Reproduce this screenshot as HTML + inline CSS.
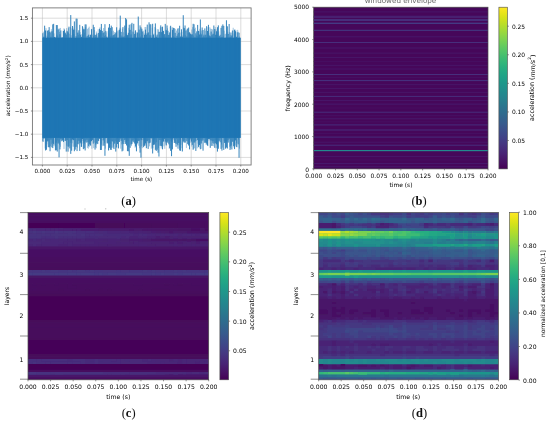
<!DOCTYPE html>
<html><head><meta charset="utf-8"><title>figure</title>
<style>
html,body{margin:0;padding:0;background:#fff;}
body{width:550px;height:422px;overflow:hidden;}
svg{display:block;font-family:'DejaVu Sans','Liberation Sans',sans-serif;}
</style></head><body>
<svg width="550" height="422" viewBox="0 0 550 422">
<rect x="0" y="0" width="550" height="422" fill="#fff"/>
<rect x="32.40" y="7.90" width="218.70" height="157.10" fill="#fff"/>
<line x1="42.40" y1="7.90" x2="42.40" y2="165.00" stroke="#b8b8b8" stroke-width="0.5"/>
<line x1="67.20" y1="7.90" x2="67.20" y2="165.00" stroke="#b8b8b8" stroke-width="0.5"/>
<line x1="92.00" y1="7.90" x2="92.00" y2="165.00" stroke="#b8b8b8" stroke-width="0.5"/>
<line x1="116.80" y1="7.90" x2="116.80" y2="165.00" stroke="#b8b8b8" stroke-width="0.5"/>
<line x1="141.60" y1="7.90" x2="141.60" y2="165.00" stroke="#b8b8b8" stroke-width="0.5"/>
<line x1="166.40" y1="7.90" x2="166.40" y2="165.00" stroke="#b8b8b8" stroke-width="0.5"/>
<line x1="191.20" y1="7.90" x2="191.20" y2="165.00" stroke="#b8b8b8" stroke-width="0.5"/>
<line x1="216.00" y1="7.90" x2="216.00" y2="165.00" stroke="#b8b8b8" stroke-width="0.5"/>
<line x1="240.80" y1="7.90" x2="240.80" y2="165.00" stroke="#b8b8b8" stroke-width="0.5"/>
<line x1="32.40" y1="157.40" x2="251.10" y2="157.40" stroke="#b8b8b8" stroke-width="0.5"/>
<line x1="32.40" y1="134.20" x2="251.10" y2="134.20" stroke="#b8b8b8" stroke-width="0.5"/>
<line x1="32.40" y1="111.00" x2="251.10" y2="111.00" stroke="#b8b8b8" stroke-width="0.5"/>
<line x1="32.40" y1="87.80" x2="251.10" y2="87.80" stroke="#b8b8b8" stroke-width="0.5"/>
<line x1="32.40" y1="64.60" x2="251.10" y2="64.60" stroke="#b8b8b8" stroke-width="0.5"/>
<line x1="32.40" y1="41.40" x2="251.10" y2="41.40" stroke="#b8b8b8" stroke-width="0.5"/>
<line x1="32.40" y1="18.20" x2="251.10" y2="18.20" stroke="#b8b8b8" stroke-width="0.5"/>
<rect x="42.40" y="37.69" width="198.40" height="100.22" fill="#1f77b4"/>
<path d="M43.30 31.72V141.98M44.20 36.91V138.92M45.10 30.70V148.47M46.00 28.13V141.14M46.90 35.68V144.39M47.80 37.02V140.21M48.70 32.64V141.25M49.60 31.84V147.66M50.50 33.03V146.34M51.40 29.17V144.29M52.30 31.23V142.99M53.20 37.01V145.72M54.10 33.39V145.36M55.00 37.03V146.47M55.90 36.79V142.91M56.80 34.59V142.54M57.70 35.73V140.50M58.60 37.64V142.58M59.50 31.95V144.79M60.40 27.95V146.80M61.30 36.99V138.66M62.20 37.69V139.60M63.10 30.85V139.57M64.00 28.23V148.97M64.90 33.87V140.86M65.80 31.81V139.54M66.70 28.07V145.66M67.60 31.76V146.59M68.50 28.19V146.89M69.40 33.73V138.23M70.30 27.04V142.89M71.20 35.23V140.44M72.10 28.33V143.25M73.00 27.56V146.62M73.90 33.99V146.83M74.80 29.62V139.81M75.70 36.06V147.12M76.60 36.23V138.07M77.50 32.86V147.62M78.40 35.01V144.44M79.30 33.75V143.01M80.20 32.10V143.83M81.10 37.64V146.81M82.00 34.06V143.68M82.90 34.92V141.00M83.80 27.53V142.85M84.70 32.65V143.85M85.60 27.20V140.80M86.50 36.33V142.84M87.40 28.96V147.90M88.30 27.86V148.69M89.20 26.66V147.18M90.10 35.51V141.46M91.00 37.49V141.60M91.90 28.91V148.73M92.80 34.68V139.35M93.70 36.02V148.15M94.60 30.02V142.65M95.50 36.76V147.45M96.40 31.53V148.23M97.30 36.47V139.71M98.20 29.23V141.14M99.10 34.90V138.08M100.00 27.28V139.10M100.90 33.31V143.55M101.80 29.82V144.99M102.70 36.90V146.16M103.60 27.99V145.38M104.50 35.93V142.88M105.40 34.97V148.67M106.30 32.40V143.51M107.20 36.69V142.36M108.10 31.17V143.81M109.00 33.35V141.54M109.90 37.20V147.21M110.80 36.14V143.74M111.70 31.18V147.85M112.60 36.21V141.93M113.50 30.71V145.49M114.40 32.09V143.87M115.30 36.86V140.87M116.20 32.19V142.17M117.10 30.53V138.77M118.00 31.37V138.05M118.90 30.16V141.15M119.80 27.74V140.13M120.70 28.56V148.69M121.60 35.34V144.39M122.50 28.55V143.58M123.40 32.27V138.19M124.30 36.12V141.74M125.20 28.34V139.25M126.10 33.54V142.29M127.00 34.62V138.45M127.90 34.91V140.87M128.80 27.84V146.95M129.70 29.67V138.46M130.60 34.50V138.46M131.50 34.37V146.14M132.40 31.48V142.30M133.30 32.15V140.36M134.20 35.55V138.92M135.10 31.34V147.79M136.00 33.49V141.68M136.90 32.08V144.92M137.80 33.24V142.88M138.70 37.33V145.81M139.60 33.33V148.23M140.50 36.47V139.63M141.40 30.48V146.43M142.30 35.10V148.16M143.20 30.60V145.69M144.10 33.37V140.40M145.00 27.01V145.09M145.90 26.99V145.76M146.80 33.01V140.78M147.70 33.92V142.60M148.60 32.07V140.20M149.50 35.22V146.38M150.40 35.20V142.56M151.30 35.32V148.76M152.20 27.69V147.75M153.10 35.62V148.33M154.00 33.52V141.61M154.90 27.05V139.29M155.80 28.53V142.73M156.70 35.54V141.97M157.60 29.15V138.36M158.50 29.37V147.92M159.40 34.77V145.89M160.30 27.48V144.97M161.20 27.03V148.53M162.10 27.35V139.95M163.00 30.93V141.56M163.90 35.49V146.30M164.80 34.06V148.83M165.70 36.61V143.46M166.60 30.78V145.42M167.50 28.32V141.18M168.40 34.93V140.64M169.30 33.28V148.96M170.20 26.65V139.05M171.10 37.24V141.18M172.00 27.33V142.06M172.90 27.16V139.09M173.80 36.11V140.18M174.70 37.56V141.56M175.60 28.83V144.02M176.50 30.57V138.93M177.40 34.26V148.53M178.30 28.06V149.01M179.20 37.62V147.95M180.10 32.56V139.72M181.00 36.70V144.84M181.90 31.88V148.22M182.80 35.49V139.32M183.70 27.37V142.23M184.60 28.94V140.39M185.50 35.26V142.36M186.40 29.62V147.90M187.30 28.35V139.22M188.20 33.01V144.40M189.10 37.43V144.80M190.00 32.58V139.91M190.90 36.67V142.83M191.80 29.52V146.57M192.70 27.10V139.43M193.60 35.53V148.84M194.50 28.91V148.27M195.40 27.70V140.97M196.30 35.37V140.84M197.20 35.89V148.34M198.10 36.41V143.82M199.00 31.23V147.74M199.90 28.81V140.86M200.80 32.76V139.88M201.70 30.57V148.87M202.60 37.31V139.58M203.50 36.22V140.44M204.40 36.50V141.89M205.30 30.74V143.20M206.20 36.62V145.02M207.10 37.56V145.09M208.00 27.25V146.08M208.90 33.17V140.56M209.80 27.21V139.50M210.70 28.63V139.86M211.60 28.97V145.88M212.50 29.43V142.95M213.40 33.95V146.26M214.30 31.52V142.77M215.20 26.94V140.33M216.10 29.40V148.43M217.00 35.02V148.02M217.90 32.46V147.26M218.80 31.34V141.34M219.70 36.08V138.21M220.60 37.37V138.38M221.50 36.96V144.49M222.40 36.95V147.58M223.30 36.44V138.30M224.20 30.66V141.11M225.10 34.13V142.63M226.00 33.59V141.48M226.90 37.34V142.51M227.80 31.70V140.32M228.70 37.67V140.16M229.60 32.21V146.78M230.50 34.79V148.42M231.40 36.46V145.00M232.30 30.70V141.87M233.20 27.79V138.19M234.10 33.46V147.76M235.00 29.30V145.11M235.90 30.31V146.17M236.80 36.28V143.06M237.70 29.86V147.31M238.60 31.87V139.70M239.50 36.55V148.63" stroke="#1f77b4" stroke-width="0.6" fill="none" opacity="0.7"/>
<path d="M42.85 33.22V141.50M43.75 36.73V138.53M44.65 25.70V137.56M45.55 30.49V150.47M46.45 38.53V149.78M47.35 30.76V141.40M48.25 30.14V147.22M49.15 27.12V147.09M50.05 31.70V151.24M50.95 36.81V139.62M51.85 31.41V147.31M52.75 24.38V148.09M53.65 23.84V143.87M54.55 36.94V137.06M55.45 37.93V150.40M56.35 25.07V150.32M57.25 25.06V151.59M58.15 29.50V143.62M59.05 28.60V157.34M59.95 34.30V149.38M60.85 30.46V139.46M61.75 38.33V141.28M62.65 37.39V140.58M63.55 31.04V142.06M64.45 29.52V136.99M65.35 33.11V140.93M66.25 34.60V151.59M67.15 30.82V140.10M68.05 32.42V151.66M68.95 26.66V146.46M69.85 37.78V148.41M70.75 15.08V153.87M71.65 38.13V150.72M72.55 26.00V139.59M73.45 29.58V140.18M74.35 21.40V151.24M75.25 38.38V149.68M76.15 18.61V146.81M77.05 18.69V151.09M77.95 32.55V143.96M78.85 30.24V140.74M79.75 24.83V150.92M80.65 34.70V142.74M81.55 36.88V146.89M82.45 26.17V139.12M83.35 29.25V149.16M84.25 29.27V148.41M85.15 24.42V150.46M86.05 24.40V142.22M86.95 37.96V139.63M87.85 35.76V142.29M88.75 34.66V146.12M89.65 37.08V144.47M90.55 34.69V145.60M91.45 29.20V141.09M92.35 37.85V140.13M93.25 24.75V143.58M94.15 27.10V136.79M95.05 34.73V149.62M95.95 35.08V144.47M96.85 33.46V143.35M97.75 38.14V144.09M98.65 32.92V140.90M99.55 28.77V138.72M100.45 30.09V149.99M101.35 23.96V149.96M102.25 31.03V137.12M103.15 33.09V140.42M104.05 32.21V145.81M104.95 24.19V155.81M105.85 30.93V138.29M106.75 36.74V137.75M107.65 38.98V143.29M108.55 27.58V150.49M109.45 24.03V147.86M110.35 27.92V149.74M111.25 25.61V149.90M112.15 27.18V141.04M113.05 35.20V147.69M113.95 34.87V149.03M114.85 34.17V143.50M115.75 32.62V151.56M116.65 27.29V147.57M117.55 37.90V144.09M118.45 37.83V148.40M119.35 29.73V142.02M120.25 15.63V138.65M121.15 31.91V140.91M122.05 36.65V151.39M122.95 27.07V150.69M123.85 36.80V144.06M124.75 25.55V140.00M125.65 18.01V143.92M126.55 19.34V145.46M127.45 35.21V151.11M128.35 32.79V151.34M129.25 24.73V155.84M130.15 29.88V147.87M131.05 24.27V144.52M131.95 22.85V144.05M132.85 38.33V140.72M133.75 23.81V142.25M134.65 33.89V143.57M135.55 30.31V146.53M136.45 37.79V151.32M137.35 32.50V143.46M138.25 16.57V140.94M139.15 29.63V140.70M140.05 25.38V152.63M140.95 27.31V157.68M141.85 28.76V140.15M142.75 31.52V137.69M143.65 38.75V147.19M144.55 34.79V145.83M145.45 29.61V143.45M146.35 34.66V148.21M147.25 24.60V141.08M148.15 32.70V148.93M149.05 22.30V143.27M149.95 24.30V142.78M150.85 24.34V138.35M151.75 38.84V138.35M152.65 23.80V153.49M153.55 34.55V144.91M154.45 39.07V144.61M155.35 23.41V149.85M156.25 36.88V150.94M157.15 34.57V149.74M158.05 38.79V152.72M158.95 31.87V156.56M159.85 31.83V140.03M160.75 25.37V145.99M161.65 32.11V146.19M162.55 26.68V149.30M163.45 30.87V141.58M164.35 34.18V139.08M165.25 23.90V141.63M166.15 29.93V145.34M167.05 25.47V142.05M167.95 30.75V142.91M168.85 34.98V144.33M169.75 32.33V147.97M170.65 25.78V150.88M171.55 38.20V156.20M172.45 29.90V149.36M173.35 28.00V138.23M174.25 28.23V142.96M175.15 32.84V142.96M176.05 38.61V146.82M176.95 35.85V143.85M177.85 28.60V145.33M178.75 32.71V142.96M179.65 25.77V150.53M180.55 36.52V150.83M181.45 29.29V137.83M182.35 36.80V151.46M183.25 15.21V141.29M184.15 28.00V142.48M185.05 25.48V142.73M185.95 30.63V137.67M186.85 36.47V141.12M187.75 28.78V144.11M188.65 27.57V145.58M189.55 32.28V149.38M190.45 33.71V138.52M191.35 34.45V141.61M192.25 34.30V144.90M193.15 23.81V149.77M194.05 24.25V142.53M194.95 37.45V142.46M195.85 33.31V150.94M196.75 31.35V137.36M197.65 24.93V140.16M198.55 30.90V146.88M199.45 34.47V145.09M200.35 19.46V149.21M201.25 34.37V143.52M202.15 27.51V140.72M203.05 30.09V150.67M203.95 34.66V138.17M204.85 28.41V142.97M205.75 34.73V142.36M206.65 26.19V143.64M207.55 31.00V145.64M208.45 24.84V138.99M209.35 35.47V139.08M210.25 36.26V147.84M211.15 31.56V140.65M212.05 35.16V145.88M212.95 33.73V141.13M213.85 25.49V143.66M214.75 29.08V147.85M215.65 34.73V143.33M216.55 31.26V144.35M217.45 27.19V151.60M218.35 25.35V148.77M219.25 36.19V140.75M220.15 34.77V142.28M221.05 27.85V148.90M221.95 25.80V150.62M222.85 24.39V137.47M223.75 25.86V149.88M224.65 38.63V142.98M225.55 37.89V148.67M226.45 20.25V147.58M227.35 26.30V148.54M228.25 33.89V142.59M229.15 24.01V138.80M230.05 36.79V149.96M230.95 32.51V146.25M231.85 35.42V149.46M232.75 30.51V141.66M233.65 37.86V146.28M234.55 29.77V149.10M235.45 31.27V140.43M236.35 37.04V147.15M237.25 32.25V137.92M238.15 38.36V144.33M239.05 32.80V157.75" stroke="#1f77b4" stroke-width="0.9" fill="none"/>
<rect x="32.40" y="7.90" width="218.70" height="157.10" fill="none" stroke="#6e6e6e" stroke-width="0.85"/>
<line x1="42.40" y1="165.00" x2="42.40" y2="166.50" stroke="#4a4a4a" stroke-width="0.6"/>
<text x="42.40" y="170.70" font-size="5.6" text-anchor="middle" fill="#000" dominant-baseline="central">0.000</text>
<line x1="67.20" y1="165.00" x2="67.20" y2="166.50" stroke="#4a4a4a" stroke-width="0.6"/>
<text x="67.20" y="170.70" font-size="5.6" text-anchor="middle" fill="#000" dominant-baseline="central">0.025</text>
<line x1="92.00" y1="165.00" x2="92.00" y2="166.50" stroke="#4a4a4a" stroke-width="0.6"/>
<text x="92.00" y="170.70" font-size="5.6" text-anchor="middle" fill="#000" dominant-baseline="central">0.050</text>
<line x1="116.80" y1="165.00" x2="116.80" y2="166.50" stroke="#4a4a4a" stroke-width="0.6"/>
<text x="116.80" y="170.70" font-size="5.6" text-anchor="middle" fill="#000" dominant-baseline="central">0.075</text>
<line x1="141.60" y1="165.00" x2="141.60" y2="166.50" stroke="#4a4a4a" stroke-width="0.6"/>
<text x="141.60" y="170.70" font-size="5.6" text-anchor="middle" fill="#000" dominant-baseline="central">0.100</text>
<line x1="166.40" y1="165.00" x2="166.40" y2="166.50" stroke="#4a4a4a" stroke-width="0.6"/>
<text x="166.40" y="170.70" font-size="5.6" text-anchor="middle" fill="#000" dominant-baseline="central">0.125</text>
<line x1="191.20" y1="165.00" x2="191.20" y2="166.50" stroke="#4a4a4a" stroke-width="0.6"/>
<text x="191.20" y="170.70" font-size="5.6" text-anchor="middle" fill="#000" dominant-baseline="central">0.150</text>
<line x1="216.00" y1="165.00" x2="216.00" y2="166.50" stroke="#4a4a4a" stroke-width="0.6"/>
<text x="216.00" y="170.70" font-size="5.6" text-anchor="middle" fill="#000" dominant-baseline="central">0.175</text>
<line x1="240.80" y1="165.00" x2="240.80" y2="166.50" stroke="#4a4a4a" stroke-width="0.6"/>
<text x="240.80" y="170.70" font-size="5.6" text-anchor="middle" fill="#000" dominant-baseline="central">0.200</text>
<line x1="30.90" y1="157.40" x2="32.40" y2="157.40" stroke="#4a4a4a" stroke-width="0.6"/>
<text x="28.30" y="157.40" font-size="5.6" text-anchor="end" fill="#000" dominant-baseline="central">−1.5</text>
<line x1="30.90" y1="134.20" x2="32.40" y2="134.20" stroke="#4a4a4a" stroke-width="0.6"/>
<text x="28.30" y="134.20" font-size="5.6" text-anchor="end" fill="#000" dominant-baseline="central">−1.0</text>
<line x1="30.90" y1="111.00" x2="32.40" y2="111.00" stroke="#4a4a4a" stroke-width="0.6"/>
<text x="28.30" y="111.00" font-size="5.6" text-anchor="end" fill="#000" dominant-baseline="central">−0.5</text>
<line x1="30.90" y1="87.80" x2="32.40" y2="87.80" stroke="#4a4a4a" stroke-width="0.6"/>
<text x="28.30" y="87.80" font-size="5.6" text-anchor="end" fill="#000" dominant-baseline="central">0.0</text>
<line x1="30.90" y1="64.60" x2="32.40" y2="64.60" stroke="#4a4a4a" stroke-width="0.6"/>
<text x="28.30" y="64.60" font-size="5.6" text-anchor="end" fill="#000" dominant-baseline="central">0.5</text>
<line x1="30.90" y1="41.40" x2="32.40" y2="41.40" stroke="#4a4a4a" stroke-width="0.6"/>
<text x="28.30" y="41.40" font-size="5.6" text-anchor="end" fill="#000" dominant-baseline="central">1.0</text>
<line x1="30.90" y1="18.20" x2="32.40" y2="18.20" stroke="#4a4a4a" stroke-width="0.6"/>
<text x="28.30" y="18.20" font-size="5.6" text-anchor="end" fill="#000" dominant-baseline="central">1.5</text>
<text x="141.40" y="179.30" font-size="5.6" text-anchor="middle" fill="#000" dominant-baseline="central">time (s)</text>
<text x="8.50" y="85.80" font-size="5.8" text-anchor="middle" fill="#000" dominant-baseline="central" transform="rotate(-90 8.50 85.80)">acceleration (<tspan font-style="italic">mm/s</tspan><tspan font-size="4.0" dy="-2.0">2</tspan><tspan dy="2.0">)</tspan></text>
<text x="128.6" y="205.3" font-family="'Liberation Serif','DejaVu Serif',serif" font-size="12.5" text-anchor="middle" fill="#111">(<tspan font-weight="bold">a</tspan>)</text>
<text x="400.5" y="2.7" font-size="7.2" text-anchor="middle" fill="#666">windowed envelope</text>
<rect x="313.70" y="7.20" width="174.30" height="161.70" fill="#46075a"/>
<rect x="313.70" y="11.45" width="174.30" height="0.90" fill="#481769"/>
<rect x="313.70" y="15.70" width="174.30" height="2.40" fill="#481f70"/>
<rect x="313.70" y="19.00" width="174.30" height="2.00" fill="#472d7b"/>
<rect x="313.70" y="22.60" width="174.30" height="1.40" fill="#443983"/>
<rect x="313.70" y="29.80" width="174.30" height="1.00" fill="#433e85"/>
<rect x="313.70" y="36.35" width="174.30" height="0.90" fill="#481a6c"/>
<rect x="313.70" y="42.00" width="174.30" height="1.00" fill="#472e7c"/>
<rect x="313.70" y="47.55" width="174.30" height="0.90" fill="#481c6e"/>
<rect x="313.70" y="52.65" width="174.30" height="0.90" fill="#48186a"/>
<rect x="313.70" y="57.15" width="174.30" height="0.90" fill="#48186a"/>
<rect x="313.70" y="61.05" width="174.30" height="0.90" fill="#471063"/>
<rect x="313.70" y="64.85" width="174.30" height="0.90" fill="#48186a"/>
<rect x="313.70" y="68.55" width="174.30" height="0.90" fill="#48186a"/>
<rect x="313.70" y="74.00" width="174.30" height="1.00" fill="#472e7c"/>
<rect x="313.70" y="77.15" width="174.30" height="0.90" fill="#471063"/>
<rect x="313.70" y="80.10" width="174.30" height="1.00" fill="#453581"/>
<rect x="313.70" y="84.25" width="174.30" height="0.90" fill="#48186a"/>
<rect x="313.70" y="88.15" width="174.30" height="0.90" fill="#48186a"/>
<rect x="313.70" y="91.85" width="174.30" height="0.90" fill="#48186a"/>
<rect x="313.70" y="95.90" width="174.30" height="1.00" fill="#472e7c"/>
<rect x="313.70" y="100.05" width="174.30" height="0.90" fill="#48186a"/>
<rect x="313.70" y="103.65" width="174.30" height="0.90" fill="#481c6e"/>
<rect x="313.70" y="107.55" width="174.30" height="0.90" fill="#471063"/>
<rect x="313.70" y="111.70" width="174.30" height="1.00" fill="#472e7c"/>
<rect x="313.70" y="114.95" width="174.30" height="0.90" fill="#471063"/>
<rect x="313.70" y="118.35" width="174.30" height="0.90" fill="#481c6e"/>
<rect x="313.70" y="121.35" width="174.30" height="0.90" fill="#471063"/>
<rect x="313.70" y="124.40" width="174.30" height="1.00" fill="#472e7c"/>
<rect x="313.70" y="129.50" width="174.30" height="1.00" fill="#472e7c"/>
<rect x="313.70" y="133.15" width="174.30" height="0.90" fill="#471063"/>
<rect x="313.70" y="136.60" width="174.30" height="1.00" fill="#472e7c"/>
<rect x="313.70" y="141.75" width="174.30" height="0.90" fill="#48186a"/>
<rect x="313.70" y="144.70" width="174.30" height="1.00" fill="#472e7c"/>
<rect x="313.70" y="150.00" width="174.30" height="1.20" fill="#23898e"/>
<rect x="313.70" y="156.05" width="174.30" height="0.90" fill="#48186a"/>
<rect x="313.70" y="159.55" width="174.30" height="0.90" fill="#471063"/>
<rect x="313.70" y="163.15" width="174.30" height="0.90" fill="#481c6e"/>
<rect x="313.70" y="166.25" width="174.30" height="0.90" fill="#48186a"/>
<rect x="313.70" y="7.20" width="174.30" height="161.70" fill="none" stroke="#4a4a4a" stroke-width="0.7"/>
<line x1="313.70" y1="168.90" x2="313.70" y2="170.40" stroke="#4a4a4a" stroke-width="0.6"/>
<text x="313.70" y="175.50" font-size="5.95" text-anchor="middle" fill="#000" dominant-baseline="central">0.000</text>
<line x1="335.49" y1="168.90" x2="335.49" y2="170.40" stroke="#4a4a4a" stroke-width="0.6"/>
<text x="335.49" y="175.50" font-size="5.95" text-anchor="middle" fill="#000" dominant-baseline="central">0.025</text>
<line x1="357.27" y1="168.90" x2="357.27" y2="170.40" stroke="#4a4a4a" stroke-width="0.6"/>
<text x="357.27" y="175.50" font-size="5.95" text-anchor="middle" fill="#000" dominant-baseline="central">0.050</text>
<line x1="379.06" y1="168.90" x2="379.06" y2="170.40" stroke="#4a4a4a" stroke-width="0.6"/>
<text x="379.06" y="175.50" font-size="5.95" text-anchor="middle" fill="#000" dominant-baseline="central">0.075</text>
<line x1="400.85" y1="168.90" x2="400.85" y2="170.40" stroke="#4a4a4a" stroke-width="0.6"/>
<text x="400.85" y="175.50" font-size="5.95" text-anchor="middle" fill="#000" dominant-baseline="central">0.100</text>
<line x1="422.64" y1="168.90" x2="422.64" y2="170.40" stroke="#4a4a4a" stroke-width="0.6"/>
<text x="422.64" y="175.50" font-size="5.95" text-anchor="middle" fill="#000" dominant-baseline="central">0.125</text>
<line x1="444.43" y1="168.90" x2="444.43" y2="170.40" stroke="#4a4a4a" stroke-width="0.6"/>
<text x="444.43" y="175.50" font-size="5.95" text-anchor="middle" fill="#000" dominant-baseline="central">0.150</text>
<line x1="466.21" y1="168.90" x2="466.21" y2="170.40" stroke="#4a4a4a" stroke-width="0.6"/>
<text x="466.21" y="175.50" font-size="5.95" text-anchor="middle" fill="#000" dominant-baseline="central">0.175</text>
<line x1="488.00" y1="168.90" x2="488.00" y2="170.40" stroke="#4a4a4a" stroke-width="0.6"/>
<text x="488.00" y="175.50" font-size="5.95" text-anchor="middle" fill="#000" dominant-baseline="central">0.200</text>
<text x="401.00" y="184.60" font-size="5.95" text-anchor="middle" fill="#000" dominant-baseline="central">time (s)</text>
<line x1="312.20" y1="168.90" x2="313.70" y2="168.90" stroke="#4a4a4a" stroke-width="0.6"/>
<text x="309.00" y="169.35" font-size="5.95" text-anchor="end" fill="#000" dominant-baseline="central">0</text>
<line x1="312.20" y1="136.56" x2="313.70" y2="136.56" stroke="#4a4a4a" stroke-width="0.6"/>
<text x="309.00" y="136.85" font-size="5.95" text-anchor="end" fill="#000" dominant-baseline="central">1000</text>
<line x1="312.20" y1="104.22" x2="313.70" y2="104.22" stroke="#4a4a4a" stroke-width="0.6"/>
<text x="309.00" y="104.35" font-size="5.95" text-anchor="end" fill="#000" dominant-baseline="central">2000</text>
<line x1="312.20" y1="71.88" x2="313.70" y2="71.88" stroke="#4a4a4a" stroke-width="0.6"/>
<text x="309.00" y="71.85" font-size="5.95" text-anchor="end" fill="#000" dominant-baseline="central">3000</text>
<line x1="312.20" y1="39.54" x2="313.70" y2="39.54" stroke="#4a4a4a" stroke-width="0.6"/>
<text x="309.00" y="39.35" font-size="5.95" text-anchor="end" fill="#000" dominant-baseline="central">4000</text>
<line x1="312.20" y1="7.20" x2="313.70" y2="7.20" stroke="#4a4a4a" stroke-width="0.6"/>
<text x="309.00" y="6.85" font-size="5.95" text-anchor="end" fill="#000" dominant-baseline="central">5000</text>
<text x="287.30" y="88.30" font-size="6.25" text-anchor="middle" fill="#000" dominant-baseline="central" transform="rotate(-90 287.30 88.30)">frequency (Hz)</text>
<defs><linearGradient id="gb" x1="0" y1="1" x2="0" y2="0">
<stop offset="0.0000" stop-color="#440154"/>
<stop offset="0.0312" stop-color="#470d60"/>
<stop offset="0.0625" stop-color="#48186a"/>
<stop offset="0.0938" stop-color="#482374"/>
<stop offset="0.1250" stop-color="#472d7b"/>
<stop offset="0.1562" stop-color="#453781"/>
<stop offset="0.1875" stop-color="#424086"/>
<stop offset="0.2188" stop-color="#3e4989"/>
<stop offset="0.2500" stop-color="#3b528b"/>
<stop offset="0.2812" stop-color="#375b8d"/>
<stop offset="0.3125" stop-color="#33638d"/>
<stop offset="0.3438" stop-color="#2f6b8e"/>
<stop offset="0.3750" stop-color="#2c728e"/>
<stop offset="0.4062" stop-color="#297a8e"/>
<stop offset="0.4375" stop-color="#26828e"/>
<stop offset="0.4688" stop-color="#23898e"/>
<stop offset="0.5000" stop-color="#21918c"/>
<stop offset="0.5312" stop-color="#1f988b"/>
<stop offset="0.5625" stop-color="#1fa088"/>
<stop offset="0.5938" stop-color="#22a785"/>
<stop offset="0.6250" stop-color="#28ae80"/>
<stop offset="0.6562" stop-color="#32b67a"/>
<stop offset="0.6875" stop-color="#3fbc73"/>
<stop offset="0.7188" stop-color="#4ec36b"/>
<stop offset="0.7500" stop-color="#5ec962"/>
<stop offset="0.7812" stop-color="#70cf57"/>
<stop offset="0.8125" stop-color="#84d44b"/>
<stop offset="0.8438" stop-color="#98d83e"/>
<stop offset="0.8750" stop-color="#addc30"/>
<stop offset="0.9062" stop-color="#c2df23"/>
<stop offset="0.9375" stop-color="#d8e219"/>
<stop offset="0.9688" stop-color="#ece51b"/>
<stop offset="1.0000" stop-color="#fde725"/>
</linearGradient></defs>
<rect x="498.90" y="7.20" width="8.50" height="161.70" fill="url(#gb)"/>
<rect x="498.90" y="7.20" width="8.50" height="161.70" fill="none" stroke="#4a4a4a" stroke-width="0.6"/>
<line x1="507.40" y1="26.20" x2="508.90" y2="26.20" stroke="#4a4a4a" stroke-width="0.6"/>
<text x="511.90" y="26.20" font-size="5.95" text-anchor="start" fill="#000" dominant-baseline="central">0.25</text>
<line x1="507.40" y1="54.78" x2="508.90" y2="54.78" stroke="#4a4a4a" stroke-width="0.6"/>
<text x="511.90" y="54.78" font-size="5.95" text-anchor="start" fill="#000" dominant-baseline="central">0.20</text>
<line x1="507.40" y1="83.36" x2="508.90" y2="83.36" stroke="#4a4a4a" stroke-width="0.6"/>
<text x="511.90" y="83.36" font-size="5.95" text-anchor="start" fill="#000" dominant-baseline="central">0.15</text>
<line x1="507.40" y1="111.94" x2="508.90" y2="111.94" stroke="#4a4a4a" stroke-width="0.6"/>
<text x="511.90" y="111.94" font-size="5.95" text-anchor="start" fill="#000" dominant-baseline="central">0.10</text>
<line x1="507.40" y1="140.52" x2="508.90" y2="140.52" stroke="#4a4a4a" stroke-width="0.6"/>
<text x="511.90" y="140.52" font-size="5.95" text-anchor="start" fill="#000" dominant-baseline="central">0.05</text>
<text x="531.50" y="87.75" font-size="6.32" text-anchor="middle" fill="#000" dominant-baseline="central" transform="rotate(-90 531.50 87.75)">acceleration (<tspan font-style="italic">mm/s</tspan><tspan font-size="4.4" dy="-2.2">2</tspan><tspan dy="2.2">)</tspan></text>
<text x="419.1" y="205.3" font-family="'Liberation Serif','DejaVu Serif',serif" font-size="12.5" text-anchor="middle" fill="#111">(<tspan font-weight="bold">b</tspan>)</text>
<defs><clipPath id="hc"><rect x="28.00" y="212.60" width="180.70" height="167.20"/></clipPath>
<filter id="hcf" x="-5%" y="-5%" width="110%" height="110%"><feGaussianBlur stdDeviation="0.5"/></filter>
</defs>
<g clip-path="url(#hc)"><g filter="url(#hcf)">
<rect x="25" y="209.6" width="186.7" height="6.09" fill="#470d60"/>
<rect x="25" y="215.21" width="186.7" height="3.09" fill="#470e61"/>
<rect x="25" y="217.82" width="186.7" height="3.09" fill="#471063"/>
<rect x="25" y="220.44" width="186.7" height="3.09" fill="#470d60"/>
<rect x="25" y="223.05" width="186.7" height="3.09" fill="#46075a"/>
<rect x="25" y="225.66" width="186.7" height="3.09" fill="#46075a"/>
<rect x="25" y="228.28" width="186.7" height="3.09" fill="#481c6e"/>
<rect x="25" y="230.89" width="186.7" height="3.09" fill="#482677"/>
<rect x="25" y="233.5" width="186.7" height="3.09" fill="#472c7a"/>
<rect x="25" y="236.11" width="186.7" height="3.09" fill="#482878"/>
<rect x="25" y="238.72" width="186.7" height="3.09" fill="#481f70"/>
<rect x="25" y="241.34" width="186.7" height="3.09" fill="#482374"/>
<rect x="25" y="243.95" width="186.7" height="3.09" fill="#482374"/>
<rect x="25" y="246.56" width="186.7" height="3.09" fill="#481668"/>
<rect x="25" y="249.18" width="186.7" height="3.09" fill="#471164"/>
<rect x="25" y="251.79" width="186.7" height="3.09" fill="#471164"/>
<rect x="25" y="254.4" width="186.7" height="3.09" fill="#471164"/>
<rect x="25" y="257.01" width="186.7" height="3.09" fill="#470e61"/>
<rect x="25" y="259.62" width="186.7" height="3.09" fill="#460b5e"/>
<rect x="25" y="262.24" width="186.7" height="3.09" fill="#460a5d"/>
<rect x="25" y="264.85" width="186.7" height="3.09" fill="#460a5d"/>
<rect x="25" y="267.46" width="186.7" height="3.09" fill="#46085c"/>
<rect x="25" y="270.07" width="186.7" height="3.09" fill="#453581"/>
<rect x="25" y="272.69" width="186.7" height="3.09" fill="#443a83"/>
<rect x="25" y="275.3" width="186.7" height="3.09" fill="#471365"/>
<rect x="25" y="277.91" width="186.7" height="3.09" fill="#471063"/>
<rect x="25" y="280.52" width="186.7" height="3.09" fill="#470d60"/>
<rect x="25" y="283.14" width="186.7" height="3.09" fill="#460b5e"/>
<rect x="25" y="285.75" width="186.7" height="3.09" fill="#460b5e"/>
<rect x="25" y="288.36" width="186.7" height="3.09" fill="#460b5e"/>
<rect x="25" y="290.98" width="186.7" height="3.09" fill="#460a5d"/>
<rect x="25" y="293.59" width="186.7" height="3.09" fill="#46075a"/>
<rect x="25" y="296.2" width="186.7" height="3.09" fill="#440256"/>
<rect x="25" y="298.81" width="186.7" height="3.09" fill="#440256"/>
<rect x="25" y="301.43" width="186.7" height="3.09" fill="#440256"/>
<rect x="25" y="304.04" width="186.7" height="3.09" fill="#440256"/>
<rect x="25" y="306.65" width="186.7" height="3.09" fill="#440256"/>
<rect x="25" y="309.26" width="186.7" height="3.09" fill="#440256"/>
<rect x="25" y="311.88" width="186.7" height="3.09" fill="#440256"/>
<rect x="25" y="314.49" width="186.7" height="3.09" fill="#440256"/>
<rect x="25" y="317.1" width="186.7" height="3.09" fill="#440256"/>
<rect x="25" y="319.71" width="186.7" height="3.09" fill="#46075a"/>
<rect x="25" y="322.32" width="186.7" height="3.09" fill="#46085c"/>
<rect x="25" y="324.94" width="186.7" height="3.09" fill="#460a5d"/>
<rect x="25" y="327.55" width="186.7" height="3.09" fill="#46085c"/>
<rect x="25" y="330.16" width="186.7" height="3.09" fill="#46085c"/>
<rect x="25" y="332.77" width="186.7" height="3.09" fill="#46085c"/>
<rect x="25" y="335.39" width="186.7" height="3.09" fill="#46085c"/>
<rect x="25" y="338" width="186.7" height="3.09" fill="#46075a"/>
<rect x="25" y="340.61" width="186.7" height="3.09" fill="#450559"/>
<rect x="25" y="343.23" width="186.7" height="3.09" fill="#450559"/>
<rect x="25" y="345.84" width="186.7" height="3.09" fill="#450559"/>
<rect x="25" y="348.45" width="186.7" height="3.09" fill="#450559"/>
<rect x="25" y="351.06" width="186.7" height="3.09" fill="#450559"/>
<rect x="25" y="353.68" width="186.7" height="3.09" fill="#46075a"/>
<rect x="25" y="356.29" width="186.7" height="3.09" fill="#46085c"/>
<rect x="25" y="358.9" width="186.7" height="3.09" fill="#472a7a"/>
<rect x="25" y="361.51" width="186.7" height="3.09" fill="#472a7a"/>
<rect x="25" y="364.12" width="186.7" height="3.09" fill="#440256"/>
<rect x="25" y="366.74" width="186.7" height="3.09" fill="#440256"/>
<rect x="25" y="369.35" width="186.7" height="3.09" fill="#460b5e"/>
<rect x="25" y="371.96" width="186.7" height="3.09" fill="#472e7c"/>
<rect x="25" y="374.58" width="186.7" height="3.09" fill="#48186a"/>
<rect x="25" y="377.19" width="186.7" height="6.01" fill="#460b5e"/>
<path fill="#470d60" d="M25 209.6h186.7v5.69h-186.7zM25 220.44h186.7v2.69h-186.7zM204.29 223.05h7.41v2.69h-7.41zM204.29 225.66h7.41v2.69h-7.41zM25 280.52h186.7v2.69h-186.7zM32.41 283.14h4.49v2.69h-4.49zM41.22 283.14h4.49v2.69h-4.49zM54.44 283.14h4.49v2.69h-4.49zM67.67 283.14h4.49v2.69h-4.49zM133.78 283.14h8.89v2.69h-8.89zM173.44 283.14h4.49v2.69h-4.49zM191.07 283.14h8.89v2.69h-8.89zM67.67 285.75h8.89v2.69h-8.89zM32.41 288.36h4.49v2.69h-4.49z"/>
<path fill="#470e61" d="M25 215.21h186.7v2.69h-186.7zM204.29 228.28h7.41v2.69h-7.41zM25 257.01h186.7v2.69h-186.7z"/>
<path fill="#471063" d="M25 217.82h186.7v2.69h-186.7zM25 277.91h186.7v2.69h-186.7z"/>
<path fill="#450457" d="M25 223.05h33.93v2.69h-33.93zM25 225.66h33.93v2.69h-33.93z"/>
<path fill="#450559" d="M58.85 223.05h35.34v2.69h-35.34zM58.85 225.66h35.34v2.69h-35.34zM25 340.61h186.7v2.69h-186.7zM25 343.23h186.7v2.69h-186.7zM25 345.84h186.7v2.69h-186.7zM25 348.45h186.7v2.69h-186.7zM25 351.06h186.7v2.69h-186.7z"/>
<path fill="#46075a" d="M94.11 223.05h30.93v2.69h-30.93zM94.11 225.66h30.93v2.69h-30.93zM25 293.59h186.7v2.69h-186.7zM25 319.71h186.7v2.69h-186.7zM25 338h186.7v2.69h-186.7zM25 353.68h186.7v2.69h-186.7z"/>
<path fill="#46085c" d="M124.96 223.05h26.52v2.69h-26.52zM124.96 225.66h26.52v2.69h-26.52zM25 267.46h186.7v2.69h-186.7zM25 322.32h186.7v2.69h-186.7zM25 327.55h186.7v2.69h-186.7zM25 330.16h186.7v2.69h-186.7zM25 332.77h186.7v2.69h-186.7zM25 335.39h186.7v2.69h-186.7zM25 356.29h186.7v2.69h-186.7z"/>
<path fill="#460a5d" d="M151.4 223.05h26.52v2.69h-26.52zM151.4 225.66h26.52v2.69h-26.52zM25 262.24h186.7v2.69h-186.7zM25 264.85h186.7v2.69h-186.7zM164.63 283.14h4.49v2.69h-4.49zM177.85 283.14h4.49v2.69h-4.49zM58.85 288.36h4.49v2.69h-4.49zM85.3 288.36h4.49v2.69h-4.49zM98.52 288.36h4.49v2.69h-4.49zM107.33 288.36h4.49v2.69h-4.49zM138.18 288.36h4.49v2.69h-4.49zM151.4 288.36h17.71v2.69h-17.71zM25 290.98h186.7v2.69h-186.7zM25 324.94h186.7v2.69h-186.7z"/>
<path fill="#460b5e" d="M177.85 223.05h26.52v2.69h-26.52zM177.85 225.66h26.52v2.69h-26.52zM25 259.62h186.7v2.69h-186.7zM25 283.14h7.49v2.69h-7.49zM36.81 283.14h4.49v2.69h-4.49zM45.63 283.14h8.89v2.69h-8.89zM58.85 283.14h8.89v2.69h-8.89zM72.07 283.14h61.78v2.69h-61.78zM142.59 283.14h22.12v2.69h-22.12zM169.03 283.14h4.49v2.69h-4.49zM182.26 283.14h8.89v2.69h-8.89zM199.89 283.14h11.81v2.69h-11.81zM25 285.75h42.75v2.69h-42.75zM76.48 285.75h135.22v2.69h-135.22zM25 288.36h7.49v2.69h-7.49zM36.81 288.36h22.12v2.69h-22.12zM63.26 288.36h22.12v2.69h-22.12zM89.7 288.36h8.89v2.69h-8.89zM102.92 288.36h4.49v2.69h-4.49zM111.74 288.36h26.52v2.69h-26.52zM142.59 288.36h8.89v2.69h-8.89zM169.03 288.36h42.67v2.69h-42.67zM25 369.35h186.7v2.69h-186.7zM25 377.19h186.7v5.61h-186.7z"/>
<path fill="#472a7a" d="M25 228.28h7.49v2.69h-7.49zM102.92 230.89h4.49v2.69h-4.49zM107.33 233.5h22.12v2.69h-22.12zM142.59 233.5h4.49v2.69h-4.49zM85.3 236.11h8.89v2.69h-8.89zM32.41 238.72h4.49v2.69h-4.49zM89.7 358.9h4.49v2.69h-4.49zM102.92 358.9h8.89v2.69h-8.89zM116.15 358.9h4.49v2.69h-4.49zM98.52 361.51h22.12v2.69h-22.12zM164.63 371.96h4.49v2.69h-4.49zM182.26 371.96h4.49v2.69h-4.49z"/>
<path fill="#482979" d="M32.41 228.28h4.49v2.69h-4.49zM98.52 230.89h4.49v2.69h-4.49zM129.37 233.5h4.49v2.69h-4.49zM138.18 233.5h4.49v2.69h-4.49zM98.52 236.11h17.71v2.69h-17.71zM124.96 236.11h4.49v2.69h-4.49zM41.22 238.72h4.49v2.69h-4.49zM25 241.34h16.3v2.69h-16.3zM32.41 243.95h4.49v2.69h-4.49zM111.74 358.9h4.49v2.69h-4.49zM120.55 358.9h4.49v2.69h-4.49zM129.37 358.9h13.3v2.69h-13.3zM147 358.9h4.49v2.69h-4.49zM120.55 361.51h26.52v2.69h-26.52zM169.03 371.96h4.49v2.69h-4.49zM177.85 371.96h4.49v2.69h-4.49zM191.07 371.96h8.89v2.69h-8.89zM204.29 371.96h7.41v2.69h-7.41z"/>
<path fill="#482878" d="M36.81 228.28h8.89v2.69h-8.89zM107.33 230.89h13.3v2.69h-13.3zM124.96 230.89h4.49v2.69h-4.49zM133.78 233.5h4.49v2.69h-4.49zM147 233.5h4.49v2.69h-4.49zM160.22 233.5h4.49v2.69h-4.49zM173.44 233.5h4.49v2.69h-4.49zM120.55 236.11h4.49v2.69h-4.49zM25 238.72h7.49v2.69h-7.49zM50.04 238.72h8.89v2.69h-8.89zM41.22 241.34h22.12v2.69h-22.12zM142.59 358.9h4.49v2.69h-4.49zM151.4 358.9h4.49v2.69h-4.49zM173.44 358.9h4.49v2.69h-4.49zM147 361.51h8.89v2.69h-8.89zM160.22 361.51h4.49v2.69h-4.49zM186.66 371.96h4.49v2.69h-4.49zM199.89 371.96h4.49v2.69h-4.49z"/>
<path fill="#482677" d="M45.63 228.28h4.49v2.69h-4.49zM54.44 228.28h4.49v2.69h-4.49zM120.55 230.89h4.49v2.69h-4.49zM151.4 233.5h4.49v2.69h-4.49zM164.63 233.5h4.49v2.69h-4.49zM186.66 233.5h4.49v2.69h-4.49zM138.18 236.11h4.49v2.69h-4.49zM36.81 238.72h4.49v2.69h-4.49zM45.63 238.72h4.49v2.69h-4.49zM58.85 238.72h8.89v2.69h-8.89zM80.89 238.72h4.49v2.69h-4.49zM67.67 241.34h4.49v2.69h-4.49zM25 243.95h7.49v2.69h-7.49zM41.22 243.95h17.71v2.69h-17.71zM155.81 358.9h13.3v2.69h-13.3zM182.26 358.9h4.49v2.69h-4.49zM155.81 361.51h4.49v2.69h-4.49zM164.63 361.51h13.3v2.69h-13.3zM182.26 361.51h4.49v2.69h-4.49zM204.29 361.51h7.41v2.69h-7.41z"/>
<path fill="#482576" d="M50.04 228.28h4.49v2.69h-4.49zM155.81 233.5h4.49v2.69h-4.49zM169.03 233.5h4.49v2.69h-4.49zM182.26 233.5h4.49v2.69h-4.49zM191.07 233.5h4.49v2.69h-4.49zM199.89 233.5h11.81v2.69h-11.81zM142.59 236.11h4.49v2.69h-4.49zM67.67 238.72h8.89v2.69h-8.89zM63.26 241.34h4.49v2.69h-4.49zM72.07 241.34h22.12v2.69h-22.12zM36.81 243.95h4.49v2.69h-4.49zM67.67 243.95h4.49v2.69h-4.49zM186.66 358.9h25.04v2.69h-25.04zM186.66 361.51h8.89v2.69h-8.89zM199.89 361.51h4.49v2.69h-4.49z"/>
<path fill="#482475" d="M58.85 228.28h4.49v2.69h-4.49zM129.37 230.89h4.49v2.69h-4.49zM177.85 233.5h4.49v2.69h-4.49zM195.48 233.5h4.49v2.69h-4.49zM129.37 236.11h8.89v2.69h-8.89zM76.48 238.72h4.49v2.69h-4.49zM85.3 238.72h17.71v2.69h-17.71zM94.11 241.34h4.49v2.69h-4.49zM58.85 243.95h8.89v2.69h-8.89zM72.07 243.95h8.89v2.69h-8.89zM85.3 243.95h4.49v2.69h-4.49zM169.03 358.9h4.49v2.69h-4.49zM177.85 358.9h4.49v2.69h-4.49zM177.85 361.51h4.49v2.69h-4.49zM195.48 361.51h4.49v2.69h-4.49z"/>
<path fill="#482374" d="M63.26 228.28h8.89v2.69h-8.89zM76.48 228.28h4.49v2.69h-4.49zM138.18 230.89h4.49v2.69h-4.49zM147 236.11h8.89v2.69h-8.89zM173.44 236.11h4.49v2.69h-4.49zM107.33 238.72h13.3v2.69h-13.3zM98.52 241.34h17.71v2.69h-17.71zM120.55 241.34h8.89v2.69h-8.89zM133.78 241.34h4.49v2.69h-4.49zM80.89 243.95h4.49v2.69h-4.49zM89.7 243.95h8.89v2.69h-8.89zM138.18 243.95h8.89v2.69h-8.89zM173.44 243.95h4.49v2.69h-4.49zM182.26 243.95h4.49v2.69h-4.49zM191.07 243.95h4.49v2.69h-4.49zM199.89 243.95h11.81v2.69h-11.81z"/>
<path fill="#482173" d="M72.07 228.28h4.49v2.69h-4.49zM133.78 230.89h4.49v2.69h-4.49zM142.59 230.89h4.49v2.69h-4.49zM160.22 236.11h4.49v2.69h-4.49zM182.26 236.11h4.49v2.69h-4.49zM204.29 236.11h7.41v2.69h-7.41zM102.92 238.72h4.49v2.69h-4.49zM116.15 241.34h4.49v2.69h-4.49zM138.18 241.34h13.3v2.69h-13.3zM173.44 241.34h4.49v2.69h-4.49zM186.66 241.34h4.49v2.69h-4.49zM98.52 243.95h8.89v2.69h-8.89zM111.74 243.95h26.52v2.69h-26.52zM155.81 243.95h17.71v2.69h-17.71zM186.66 243.95h4.49v2.69h-4.49zM195.48 243.95h4.49v2.69h-4.49z"/>
<path fill="#481f70" d="M80.89 228.28h17.71v2.69h-17.71zM151.4 230.89h4.49v2.69h-4.49zM155.81 236.11h4.49v2.69h-4.49zM164.63 236.11h4.49v2.69h-4.49zM129.37 238.72h8.89v2.69h-8.89zM169.03 241.34h4.49v2.69h-4.49zM195.48 241.34h4.49v2.69h-4.49z"/>
<path fill="#481b6d" d="M98.52 228.28h4.49v2.69h-4.49zM107.33 228.28h17.71v2.69h-17.71zM155.81 230.89h4.49v2.69h-4.49zM173.44 230.89h4.49v2.69h-4.49zM142.59 238.72h4.49v2.69h-4.49z"/>
<path fill="#481c6e" d="M102.92 228.28h4.49v2.69h-4.49zM160.22 230.89h4.49v2.69h-4.49z"/>
<path fill="#481a6c" d="M124.96 228.28h4.49v2.69h-4.49zM133.78 228.28h8.89v2.69h-8.89zM164.63 230.89h4.49v2.69h-4.49zM177.85 230.89h8.89v2.69h-8.89zM147 238.72h4.49v2.69h-4.49z"/>
<path fill="#48186a" d="M129.37 228.28h4.49v2.69h-4.49zM147 228.28h4.49v2.69h-4.49zM169.03 230.89h4.49v2.69h-4.49zM186.66 230.89h4.49v2.69h-4.49zM151.4 238.72h4.49v2.69h-4.49zM25 374.58h186.7v2.69h-186.7z"/>
<path fill="#481769" d="M142.59 228.28h4.49v2.69h-4.49zM151.4 228.28h4.49v2.69h-4.49zM191.07 230.89h8.89v2.69h-8.89z"/>
<path fill="#481668" d="M155.81 228.28h8.89v2.69h-8.89zM169.03 228.28h4.49v2.69h-4.49zM199.89 230.89h11.81v2.69h-11.81zM155.81 238.72h22.12v2.69h-22.12zM25 246.56h186.7v2.69h-186.7z"/>
<path fill="#481467" d="M164.63 228.28h4.49v2.69h-4.49zM173.44 228.28h4.49v2.69h-4.49zM177.85 238.72h4.49v2.69h-4.49zM186.66 238.72h4.49v2.69h-4.49z"/>
<path fill="#471365" d="M177.85 228.28h13.3v2.69h-13.3zM199.89 228.28h4.49v2.69h-4.49zM182.26 238.72h4.49v2.69h-4.49zM191.07 238.72h4.49v2.69h-4.49zM25 275.3h186.7v2.69h-186.7z"/>
<path fill="#471164" d="M191.07 228.28h8.89v2.69h-8.89zM195.48 238.72h16.22v2.69h-16.22zM25 249.18h186.7v2.69h-186.7zM25 251.79h186.7v2.69h-186.7zM25 254.4h186.7v2.69h-186.7z"/>
<path fill="#46307e" d="M25 230.89h7.49v2.69h-7.49zM63.26 230.89h8.89v2.69h-8.89zM36.81 233.5h4.49v2.69h-4.49zM50.04 233.5h13.3v2.69h-13.3zM67.67 233.5h8.89v2.69h-8.89zM80.89 233.5h4.49v2.69h-4.49zM25 236.11h16.3v2.69h-16.3zM54.44 236.11h4.49v2.69h-4.49zM32.41 361.51h4.49v2.69h-4.49zM80.89 371.96h22.12v2.69h-22.12z"/>
<path fill="#463480" d="M32.41 230.89h4.49v2.69h-4.49zM41.22 230.89h4.49v2.69h-4.49zM54.44 230.89h4.49v2.69h-4.49zM25 270.07h7.49v2.69h-7.49zM102.92 270.07h13.3v2.69h-13.3zM120.55 270.07h8.89v2.69h-8.89zM155.81 270.07h8.89v2.69h-8.89zM199.89 270.07h4.49v2.69h-4.49zM25 371.96h11.89v2.69h-11.89z"/>
<path fill="#46337f" d="M36.81 230.89h4.49v2.69h-4.49zM45.63 230.89h8.89v2.69h-8.89zM58.85 230.89h4.49v2.69h-4.49zM25 233.5h11.89v2.69h-11.89zM41.22 233.5h4.49v2.69h-4.49zM36.81 371.96h13.3v2.69h-13.3zM54.44 371.96h8.89v2.69h-8.89z"/>
<path fill="#46327e" d="M72.07 230.89h4.49v2.69h-4.49zM45.63 233.5h4.49v2.69h-4.49zM63.26 233.5h4.49v2.69h-4.49zM50.04 371.96h4.49v2.69h-4.49zM63.26 371.96h17.71v2.69h-17.71z"/>
<path fill="#472f7d" d="M76.48 230.89h4.49v2.69h-4.49zM85.3 230.89h4.49v2.69h-4.49zM76.48 233.5h4.49v2.69h-4.49zM89.7 233.5h4.49v2.69h-4.49zM45.63 236.11h8.89v2.69h-8.89zM25 358.9h11.89v2.69h-11.89zM41.22 358.9h17.71v2.69h-17.71zM25 361.51h7.49v2.69h-7.49zM102.92 371.96h4.49v2.69h-4.49zM111.74 371.96h8.89v2.69h-8.89z"/>
<path fill="#472e7c" d="M80.89 230.89h4.49v2.69h-4.49zM89.7 230.89h4.49v2.69h-4.49zM41.22 236.11h4.49v2.69h-4.49zM63.26 236.11h4.49v2.69h-4.49zM72.07 236.11h4.49v2.69h-4.49zM36.81 358.9h4.49v2.69h-4.49zM36.81 361.51h8.89v2.69h-8.89zM50.04 361.51h17.71v2.69h-17.71zM72.07 361.51h8.89v2.69h-8.89zM107.33 371.96h4.49v2.69h-4.49zM120.55 371.96h4.49v2.69h-4.49zM129.37 371.96h17.71v2.69h-17.71z"/>
<path fill="#472c7a" d="M94.11 230.89h4.49v2.69h-4.49zM102.92 233.5h4.49v2.69h-4.49zM94.11 236.11h4.49v2.69h-4.49zM116.15 236.11h4.49v2.69h-4.49zM67.67 358.9h4.49v2.69h-4.49zM85.3 358.9h4.49v2.69h-4.49zM98.52 358.9h4.49v2.69h-4.49zM124.96 358.9h4.49v2.69h-4.49zM85.3 361.51h8.89v2.69h-8.89zM155.81 371.96h8.89v2.69h-8.89zM173.44 371.96h4.49v2.69h-4.49z"/>
<path fill="#482071" d="M147 230.89h4.49v2.69h-4.49zM169.03 236.11h4.49v2.69h-4.49zM177.85 236.11h4.49v2.69h-4.49zM186.66 236.11h17.71v2.69h-17.71zM120.55 238.72h8.89v2.69h-8.89zM129.37 241.34h4.49v2.69h-4.49zM151.4 241.34h17.71v2.69h-17.71zM182.26 241.34h4.49v2.69h-4.49zM191.07 241.34h4.49v2.69h-4.49zM199.89 241.34h11.81v2.69h-11.81zM107.33 243.95h4.49v2.69h-4.49zM147 243.95h8.89v2.69h-8.89zM177.85 243.95h4.49v2.69h-4.49z"/>
<path fill="#472d7b" d="M85.3 233.5h4.49v2.69h-4.49zM94.11 233.5h8.89v2.69h-8.89zM58.85 236.11h4.49v2.69h-4.49zM67.67 236.11h4.49v2.69h-4.49zM76.48 236.11h8.89v2.69h-8.89zM58.85 358.9h8.89v2.69h-8.89zM72.07 358.9h13.3v2.69h-13.3zM94.11 358.9h4.49v2.69h-4.49zM45.63 361.51h4.49v2.69h-4.49zM67.67 361.51h4.49v2.69h-4.49zM80.89 361.51h4.49v2.69h-4.49zM94.11 361.51h4.49v2.69h-4.49zM124.96 371.96h4.49v2.69h-4.49zM147 371.96h8.89v2.69h-8.89z"/>
<path fill="#481d6f" d="M138.18 238.72h4.49v2.69h-4.49zM177.85 241.34h4.49v2.69h-4.49z"/>
<path fill="#453581" d="M32.41 270.07h8.89v2.69h-8.89zM45.63 270.07h4.49v2.69h-4.49zM58.85 270.07h8.89v2.69h-8.89zM72.07 270.07h4.49v2.69h-4.49zM85.3 270.07h4.49v2.69h-4.49zM94.11 270.07h8.89v2.69h-8.89zM116.15 270.07h4.49v2.69h-4.49zM129.37 270.07h13.3v2.69h-13.3zM147 270.07h4.49v2.69h-4.49zM164.63 270.07h8.89v2.69h-8.89zM177.85 270.07h4.49v2.69h-4.49zM186.66 270.07h13.3v2.69h-13.3zM204.29 270.07h7.41v2.69h-7.41z"/>
<path fill="#453781" d="M41.22 270.07h4.49v2.69h-4.49zM50.04 270.07h8.89v2.69h-8.89zM67.67 270.07h4.49v2.69h-4.49zM76.48 270.07h8.89v2.69h-8.89zM89.7 270.07h4.49v2.69h-4.49zM142.59 270.07h4.49v2.69h-4.49zM151.4 270.07h4.49v2.69h-4.49zM173.44 270.07h4.49v2.69h-4.49zM182.26 270.07h4.49v2.69h-4.49z"/>
<path fill="#443b84" d="M25 272.69h7.49v2.69h-7.49zM54.44 272.69h4.49v2.69h-4.49zM67.67 272.69h8.89v2.69h-8.89zM80.89 272.69h13.3v2.69h-13.3zM160.22 272.69h4.49v2.69h-4.49zM173.44 272.69h4.49v2.69h-4.49zM182.26 272.69h8.89v2.69h-8.89zM195.48 272.69h8.89v2.69h-8.89z"/>
<path fill="#443a83" d="M32.41 272.69h22.12v2.69h-22.12zM58.85 272.69h8.89v2.69h-8.89zM76.48 272.69h4.49v2.69h-4.49zM98.52 272.69h4.49v2.69h-4.49zM107.33 272.69h8.89v2.69h-8.89zM124.96 272.69h17.71v2.69h-17.71zM151.4 272.69h4.49v2.69h-4.49zM191.07 272.69h4.49v2.69h-4.49zM204.29 272.69h7.41v2.69h-7.41z"/>
<path fill="#443983" d="M94.11 272.69h4.49v2.69h-4.49zM116.15 272.69h8.89v2.69h-8.89zM142.59 272.69h8.89v2.69h-8.89zM155.81 272.69h4.49v2.69h-4.49zM177.85 272.69h4.49v2.69h-4.49z"/>
<path fill="#453882" d="M102.92 272.69h4.49v2.69h-4.49zM164.63 272.69h8.89v2.69h-8.89z"/>
<path fill="#440256" d="M25 296.2h186.7v2.69h-186.7zM25 298.81h186.7v2.69h-186.7zM25 301.43h186.7v2.69h-186.7zM25 304.04h186.7v2.69h-186.7zM25 306.65h186.7v2.69h-186.7zM25 309.26h186.7v2.69h-186.7zM25 311.88h186.7v2.69h-186.7zM25 314.49h186.7v2.69h-186.7zM25 317.1h186.7v2.69h-186.7zM25 364.12h186.7v2.69h-186.7zM25 366.74h186.7v2.69h-186.7z"/>
</g></g>
<rect x="28.00" y="212.60" width="180.70" height="167.20" fill="none" stroke="#4a4a4a" stroke-width="0.7"/>
<line x1="20.00" y1="212.60" x2="28.00" y2="212.60" stroke="#333" stroke-width="0.55"/>
<line x1="20.00" y1="253.30" x2="28.00" y2="253.30" stroke="#333" stroke-width="0.55"/>
<line x1="20.00" y1="294.60" x2="28.00" y2="294.60" stroke="#333" stroke-width="0.55"/>
<line x1="20.00" y1="336.00" x2="28.00" y2="336.00" stroke="#333" stroke-width="0.55"/>
<line x1="20.00" y1="379.20" x2="28.00" y2="379.20" stroke="#333" stroke-width="0.55"/>
<text x="21.40" y="231.60" font-size="6.1" text-anchor="middle" fill="#000" dominant-baseline="central">4</text>
<text x="21.40" y="274.10" font-size="6.1" text-anchor="middle" fill="#000" dominant-baseline="central">3</text>
<text x="21.40" y="315.50" font-size="6.1" text-anchor="middle" fill="#000" dominant-baseline="central">2</text>
<text x="21.40" y="359.30" font-size="6.1" text-anchor="middle" fill="#000" dominant-baseline="central">1</text>
<text x="6.40" y="296.00" font-size="6.1" text-anchor="middle" fill="#000" dominant-baseline="central" transform="rotate(-90 6.40 296.00)">layers</text>
<line x1="28.00" y1="379.80" x2="28.00" y2="381.30" stroke="#4a4a4a" stroke-width="0.6"/>
<text x="28.00" y="386.70" font-size="6.1" text-anchor="middle" fill="#000" dominant-baseline="central">0.000</text>
<line x1="50.59" y1="379.80" x2="50.59" y2="381.30" stroke="#4a4a4a" stroke-width="0.6"/>
<text x="50.59" y="386.70" font-size="6.1" text-anchor="middle" fill="#000" dominant-baseline="central">0.025</text>
<line x1="73.17" y1="379.80" x2="73.17" y2="381.30" stroke="#4a4a4a" stroke-width="0.6"/>
<text x="73.17" y="386.70" font-size="6.1" text-anchor="middle" fill="#000" dominant-baseline="central">0.050</text>
<line x1="95.76" y1="379.80" x2="95.76" y2="381.30" stroke="#4a4a4a" stroke-width="0.6"/>
<text x="95.76" y="386.70" font-size="6.1" text-anchor="middle" fill="#000" dominant-baseline="central">0.075</text>
<line x1="118.35" y1="379.80" x2="118.35" y2="381.30" stroke="#4a4a4a" stroke-width="0.6"/>
<text x="118.35" y="386.70" font-size="6.1" text-anchor="middle" fill="#000" dominant-baseline="central">0.100</text>
<line x1="140.94" y1="379.80" x2="140.94" y2="381.30" stroke="#4a4a4a" stroke-width="0.6"/>
<text x="140.94" y="386.70" font-size="6.1" text-anchor="middle" fill="#000" dominant-baseline="central">0.125</text>
<line x1="163.52" y1="379.80" x2="163.52" y2="381.30" stroke="#4a4a4a" stroke-width="0.6"/>
<text x="163.52" y="386.70" font-size="6.1" text-anchor="middle" fill="#000" dominant-baseline="central">0.150</text>
<line x1="186.11" y1="379.80" x2="186.11" y2="381.30" stroke="#4a4a4a" stroke-width="0.6"/>
<text x="186.11" y="386.70" font-size="6.1" text-anchor="middle" fill="#000" dominant-baseline="central">0.175</text>
<line x1="208.70" y1="379.80" x2="208.70" y2="381.30" stroke="#4a4a4a" stroke-width="0.6"/>
<text x="208.70" y="386.70" font-size="6.1" text-anchor="middle" fill="#000" dominant-baseline="central">0.200</text>
<text x="118.40" y="396.00" font-size="6.22" text-anchor="middle" fill="#000" dominant-baseline="central">time (s)</text>
<defs><linearGradient id="gc" x1="0" y1="1" x2="0" y2="0">
<stop offset="0.0000" stop-color="#440154"/>
<stop offset="0.0312" stop-color="#470d60"/>
<stop offset="0.0625" stop-color="#48186a"/>
<stop offset="0.0938" stop-color="#482374"/>
<stop offset="0.1250" stop-color="#472d7b"/>
<stop offset="0.1562" stop-color="#453781"/>
<stop offset="0.1875" stop-color="#424086"/>
<stop offset="0.2188" stop-color="#3e4989"/>
<stop offset="0.2500" stop-color="#3b528b"/>
<stop offset="0.2812" stop-color="#375b8d"/>
<stop offset="0.3125" stop-color="#33638d"/>
<stop offset="0.3438" stop-color="#2f6b8e"/>
<stop offset="0.3750" stop-color="#2c728e"/>
<stop offset="0.4062" stop-color="#297a8e"/>
<stop offset="0.4375" stop-color="#26828e"/>
<stop offset="0.4688" stop-color="#23898e"/>
<stop offset="0.5000" stop-color="#21918c"/>
<stop offset="0.5312" stop-color="#1f988b"/>
<stop offset="0.5625" stop-color="#1fa088"/>
<stop offset="0.5938" stop-color="#22a785"/>
<stop offset="0.6250" stop-color="#28ae80"/>
<stop offset="0.6562" stop-color="#32b67a"/>
<stop offset="0.6875" stop-color="#3fbc73"/>
<stop offset="0.7188" stop-color="#4ec36b"/>
<stop offset="0.7500" stop-color="#5ec962"/>
<stop offset="0.7812" stop-color="#70cf57"/>
<stop offset="0.8125" stop-color="#84d44b"/>
<stop offset="0.8438" stop-color="#98d83e"/>
<stop offset="0.8750" stop-color="#addc30"/>
<stop offset="0.9062" stop-color="#c2df23"/>
<stop offset="0.9375" stop-color="#d8e219"/>
<stop offset="0.9688" stop-color="#ece51b"/>
<stop offset="1.0000" stop-color="#fde725"/>
</linearGradient></defs>
<rect x="219.90" y="212.60" width="8.70" height="167.20" fill="url(#gc)"/>
<rect x="219.90" y="212.60" width="8.70" height="167.20" fill="none" stroke="#4a4a4a" stroke-width="0.6"/>
<line x1="228.60" y1="232.20" x2="230.10" y2="232.20" stroke="#4a4a4a" stroke-width="0.6"/>
<text x="233.10" y="232.20" font-size="6.1" text-anchor="start" fill="#000" dominant-baseline="central">0.25</text>
<line x1="228.60" y1="261.85" x2="230.10" y2="261.85" stroke="#4a4a4a" stroke-width="0.6"/>
<text x="233.10" y="261.85" font-size="6.1" text-anchor="start" fill="#000" dominant-baseline="central">0.20</text>
<line x1="228.60" y1="291.50" x2="230.10" y2="291.50" stroke="#4a4a4a" stroke-width="0.6"/>
<text x="233.10" y="291.50" font-size="6.1" text-anchor="start" fill="#000" dominant-baseline="central">0.15</text>
<line x1="228.60" y1="321.15" x2="230.10" y2="321.15" stroke="#4a4a4a" stroke-width="0.6"/>
<text x="233.10" y="321.15" font-size="6.1" text-anchor="start" fill="#000" dominant-baseline="central">0.10</text>
<line x1="228.60" y1="350.80" x2="230.10" y2="350.80" stroke="#4a4a4a" stroke-width="0.6"/>
<text x="233.10" y="350.80" font-size="6.1" text-anchor="start" fill="#000" dominant-baseline="central">0.05</text>
<text x="252.40" y="295.90" font-size="6.47" text-anchor="middle" fill="#000" dominant-baseline="central" transform="rotate(-90 252.40 295.90)">acceleration (<tspan font-style="italic">mm/s</tspan><tspan font-size="4.5" dy="-2.2">2</tspan><tspan dy="2.2">)</tspan></text>
<text x="128.6" y="417.2" font-family="'Liberation Serif','DejaVu Serif',serif" font-size="12.5" text-anchor="middle" fill="#111">(<tspan font-weight="bold">c</tspan>)</text>
<defs><clipPath id="hd"><rect x="318.70" y="212.60" width="179.80" height="167.20"/></clipPath>
<filter id="hdf" x="-5%" y="-5%" width="110%" height="110%"><feGaussianBlur stdDeviation="0.5"/></filter>
</defs>
<g clip-path="url(#hd)"><g filter="url(#hdf)">
<rect x="315.7" y="209.6" width="185.8" height="6.09" fill="#424186"/>
<rect x="315.7" y="215.21" width="185.8" height="3.09" fill="#3e4989"/>
<rect x="315.7" y="217.82" width="185.8" height="3.09" fill="#34608d"/>
<rect x="315.7" y="220.44" width="185.8" height="3.09" fill="#365d8d"/>
<rect x="315.7" y="223.05" width="185.8" height="3.09" fill="#472f7d"/>
<rect x="315.7" y="225.66" width="185.8" height="3.09" fill="#453781"/>
<rect x="315.7" y="228.28" width="185.8" height="3.09" fill="#34608d"/>
<rect x="315.7" y="230.89" width="185.8" height="3.09" fill="#3aba76"/>
<rect x="315.7" y="233.5" width="185.8" height="3.09" fill="#3dbc74"/>
<rect x="315.7" y="236.11" width="185.8" height="3.09" fill="#25ab82"/>
<rect x="315.7" y="238.72" width="185.8" height="3.09" fill="#26818e"/>
<rect x="315.7" y="241.34" width="185.8" height="3.09" fill="#24868e"/>
<rect x="315.7" y="243.95" width="185.8" height="3.09" fill="#20928c"/>
<rect x="315.7" y="246.56" width="185.8" height="3.09" fill="#31678e"/>
<rect x="315.7" y="249.18" width="185.8" height="3.09" fill="#39568c"/>
<rect x="315.7" y="251.79" width="185.8" height="3.09" fill="#38588c"/>
<rect x="315.7" y="254.4" width="185.8" height="3.09" fill="#39568c"/>
<rect x="315.7" y="257.01" width="185.8" height="3.09" fill="#3f4889"/>
<rect x="315.7" y="259.62" width="185.8" height="3.09" fill="#46327e"/>
<rect x="315.7" y="262.24" width="185.8" height="3.09" fill="#453882"/>
<rect x="315.7" y="264.85" width="185.8" height="3.09" fill="#472f7d"/>
<rect x="315.7" y="267.46" width="185.8" height="3.09" fill="#482878"/>
<rect x="315.7" y="270.07" width="185.8" height="3.09" fill="#1f978b"/>
<rect x="315.7" y="272.69" width="185.8" height="3.09" fill="#65cb5e"/>
<rect x="315.7" y="275.3" width="185.8" height="3.09" fill="#20928c"/>
<rect x="315.7" y="277.91" width="185.8" height="3.09" fill="#375a8c"/>
<rect x="315.7" y="280.52" width="185.8" height="3.09" fill="#404688"/>
<rect x="315.7" y="283.14" width="185.8" height="3.09" fill="#472a7a"/>
<rect x="315.7" y="285.75" width="185.8" height="3.09" fill="#482878"/>
<rect x="315.7" y="288.36" width="185.8" height="3.09" fill="#482979"/>
<rect x="315.7" y="290.98" width="185.8" height="3.09" fill="#482677"/>
<rect x="315.7" y="293.59" width="185.8" height="3.09" fill="#482878"/>
<rect x="315.7" y="296.2" width="185.8" height="3.09" fill="#482173"/>
<rect x="315.7" y="298.81" width="185.8" height="3.09" fill="#481769"/>
<rect x="315.7" y="301.43" width="185.8" height="3.09" fill="#481769"/>
<rect x="315.7" y="304.04" width="185.8" height="3.09" fill="#481769"/>
<rect x="315.7" y="306.65" width="185.8" height="3.09" fill="#481668"/>
<rect x="315.7" y="309.26" width="185.8" height="3.09" fill="#471365"/>
<rect x="315.7" y="311.88" width="185.8" height="3.09" fill="#471365"/>
<rect x="315.7" y="314.49" width="185.8" height="3.09" fill="#481668"/>
<rect x="315.7" y="317.1" width="185.8" height="3.09" fill="#481a6c"/>
<rect x="315.7" y="319.71" width="185.8" height="3.09" fill="#472e7c"/>
<rect x="315.7" y="322.32" width="185.8" height="3.09" fill="#453882"/>
<rect x="315.7" y="324.94" width="185.8" height="3.09" fill="#443b84"/>
<rect x="315.7" y="327.55" width="185.8" height="3.09" fill="#423f85"/>
<rect x="315.7" y="330.16" width="185.8" height="3.09" fill="#424086"/>
<rect x="315.7" y="332.77" width="185.8" height="3.09" fill="#423f85"/>
<rect x="315.7" y="335.39" width="185.8" height="3.09" fill="#433e85"/>
<rect x="315.7" y="338" width="185.8" height="3.09" fill="#463480"/>
<rect x="315.7" y="340.61" width="185.8" height="3.09" fill="#482475"/>
<rect x="315.7" y="343.23" width="185.8" height="3.09" fill="#482475"/>
<rect x="315.7" y="345.84" width="185.8" height="3.09" fill="#472d7b"/>
<rect x="315.7" y="348.45" width="185.8" height="3.09" fill="#472d7b"/>
<rect x="315.7" y="351.06" width="185.8" height="3.09" fill="#482677"/>
<rect x="315.7" y="353.68" width="185.8" height="3.09" fill="#46307e"/>
<rect x="315.7" y="356.29" width="185.8" height="3.09" fill="#433e85"/>
<rect x="315.7" y="358.9" width="185.8" height="3.09" fill="#23898e"/>
<rect x="315.7" y="361.51" width="185.8" height="3.09" fill="#23898e"/>
<rect x="315.7" y="364.12" width="185.8" height="3.09" fill="#482071"/>
<rect x="315.7" y="366.74" width="185.8" height="3.09" fill="#482173"/>
<rect x="315.7" y="369.35" width="185.8" height="3.09" fill="#32648e"/>
<rect x="315.7" y="371.96" width="185.8" height="3.09" fill="#24aa83"/>
<rect x="315.7" y="374.58" width="185.8" height="3.09" fill="#2a778e"/>
<rect x="315.7" y="377.19" width="185.8" height="6.01" fill="#38588c"/>
<path fill="#414487" d="M315.7 209.6h11.85v5.69h-11.85zM331.86 209.6h4.47v5.69h-4.47zM340.63 209.6h4.47v5.69h-4.47zM358.17 209.6h4.47v5.69h-4.47zM366.94 209.6h4.47v5.69h-4.47zM410.79 209.6h4.47v5.69h-4.47zM423.95 209.6h4.47v5.69h-4.47zM432.72 209.6h8.85v5.69h-8.85zM454.65 209.6h4.47v5.69h-4.47zM463.42 209.6h4.47v5.69h-4.47zM485.34 209.6h4.47v5.69h-4.47zM410.79 215.21h4.47v2.69h-4.47zM428.33 215.21h4.47v2.69h-4.47zM454.65 215.21h13.24v2.69h-13.24zM397.64 223.05h4.47v2.69h-4.47zM406.41 223.05h13.24v2.69h-13.24zM349.4 225.66h13.24v2.69h-13.24zM410.79 225.66h13.24v2.69h-13.24zM450.26 225.66h4.47v2.69h-4.47zM485.34 225.66h4.47v2.69h-4.47zM494.11 225.66h7.39v2.69h-7.39zM489.73 228.28h4.47v2.69h-4.47zM315.7 249.18h11.85v2.69h-11.85zM336.24 249.18h4.47v2.69h-4.47zM331.86 251.79h4.47v2.69h-4.47zM315.7 257.01h7.47v2.69h-7.47zM327.47 257.01h4.47v2.69h-4.47zM349.4 257.01h4.47v2.69h-4.47zM366.94 257.01h4.47v2.69h-4.47zM384.48 257.01h4.47v2.69h-4.47zM397.64 257.01h4.47v2.69h-4.47zM410.79 257.01h4.47v2.69h-4.47zM428.33 257.01h4.47v2.69h-4.47zM315.7 280.52h11.85v2.69h-11.85zM358.17 280.52h4.47v2.69h-4.47zM371.32 280.52h8.85v2.69h-8.85zM397.64 280.52h4.47v2.69h-4.47zM415.18 280.52h4.47v2.69h-4.47zM428.33 280.52h4.47v2.69h-4.47zM437.1 280.52h4.47v2.69h-4.47zM454.65 280.52h4.47v2.69h-4.47zM467.8 280.52h13.24v2.69h-13.24zM388.87 324.94h4.47v2.69h-4.47zM402.02 324.94h4.47v2.69h-4.47zM432.72 324.94h4.47v2.69h-4.47zM445.88 324.94h8.85v2.69h-8.85zM463.42 324.94h4.47v2.69h-4.47zM480.96 324.94h4.47v2.69h-4.47zM494.11 324.94h7.39v2.69h-7.39zM345.01 327.55h30.78v2.69h-30.78zM380.1 327.55h8.85v2.69h-8.85zM393.25 327.55h4.47v2.69h-4.47zM402.02 327.55h4.47v2.69h-4.47zM432.72 327.55h4.47v2.69h-4.47zM450.26 327.55h4.47v2.69h-4.47zM463.42 327.55h4.47v2.69h-4.47zM476.57 327.55h8.85v2.69h-8.85zM494.11 327.55h7.39v2.69h-7.39zM349.4 330.16h4.47v2.69h-4.47zM362.55 330.16h26.39v2.69h-26.39zM397.64 330.16h4.47v2.69h-4.47zM463.42 330.16h4.47v2.69h-4.47zM472.19 330.16h4.47v2.69h-4.47zM480.96 330.16h8.85v2.69h-8.85zM494.11 330.16h7.39v2.69h-7.39zM349.4 332.77h8.85v2.69h-8.85zM388.87 332.77h4.47v2.69h-4.47zM402.02 332.77h8.85v2.69h-8.85zM415.18 332.77h4.47v2.69h-4.47zM428.33 332.77h8.85v2.69h-8.85zM441.49 332.77h13.24v2.69h-13.24zM463.42 332.77h4.47v2.69h-4.47zM472.19 332.77h13.24v2.69h-13.24zM494.11 332.77h7.39v2.69h-7.39zM327.47 335.39h4.47v2.69h-4.47zM353.78 335.39h4.47v2.69h-4.47zM366.94 335.39h4.47v2.69h-4.47zM393.25 335.39h4.47v2.69h-4.47zM402.02 335.39h4.47v2.69h-4.47zM432.72 335.39h4.47v2.69h-4.47zM441.49 335.39h4.47v2.69h-4.47zM450.26 335.39h4.47v2.69h-4.47zM463.42 335.39h4.47v2.69h-4.47zM480.96 335.39h4.47v2.69h-4.47zM345.01 356.29h4.47v2.69h-4.47zM402.02 356.29h4.47v2.69h-4.47zM415.18 356.29h4.47v2.69h-4.47zM480.96 356.29h4.47v2.69h-4.47z"/>
<path fill="#3c4f8a" d="M327.47 209.6h4.47v5.69h-4.47zM336.24 209.6h4.47v5.69h-4.47zM353.78 209.6h4.47v5.69h-4.47zM362.55 209.6h4.47v5.69h-4.47zM480.96 209.6h4.47v5.69h-4.47zM323.09 215.21h4.47v2.69h-4.47zM345.01 215.21h4.47v2.69h-4.47zM353.78 215.21h26.39v2.69h-26.39zM388.87 215.21h4.47v2.69h-4.47zM402.02 215.21h4.47v2.69h-4.47zM441.49 215.21h4.47v2.69h-4.47zM450.26 215.21h4.47v2.69h-4.47zM476.57 215.21h4.47v2.69h-4.47zM331.86 220.44h4.47v2.69h-4.47zM467.8 220.44h4.47v2.69h-4.47zM489.73 220.44h4.47v2.69h-4.47zM459.03 228.28h4.47v2.69h-4.47zM494.11 228.28h7.39v2.69h-7.39zM327.47 249.18h4.47v2.69h-4.47zM345.01 249.18h8.85v2.69h-8.85zM358.17 249.18h8.85v2.69h-8.85zM384.48 249.18h4.47v2.69h-4.47zM315.7 251.79h7.47v2.69h-7.47zM327.47 251.79h4.47v2.69h-4.47zM336.24 251.79h4.47v2.69h-4.47zM397.64 251.79h4.47v2.69h-4.47zM323.09 254.4h17.62v2.69h-17.62zM345.01 254.4h4.47v2.69h-4.47zM353.78 254.4h4.47v2.69h-4.47zM371.32 254.4h4.47v2.69h-4.47zM380.1 254.4h4.47v2.69h-4.47zM406.41 254.4h4.47v2.69h-4.47zM402.02 257.01h4.47v2.69h-4.47zM415.18 257.01h4.47v2.69h-4.47zM423.95 257.01h4.47v2.69h-4.47zM432.72 257.01h8.85v2.69h-8.85zM454.65 257.01h13.24v2.69h-13.24zM472.19 257.01h8.85v2.69h-8.85zM485.34 257.01h4.47v2.69h-4.47zM489.73 277.91h4.47v2.69h-4.47zM345.01 280.52h4.47v2.69h-4.47zM402.02 280.52h4.47v2.69h-4.47zM450.26 280.52h4.47v2.69h-4.47zM463.42 280.52h4.47v2.69h-4.47z"/>
<path fill="#375a8c" d="M345.01 209.6h4.47v5.69h-4.47zM315.7 215.21h7.47v2.69h-7.47zM327.47 215.21h4.47v2.69h-4.47zM349.4 215.21h4.47v2.69h-4.47zM432.72 215.21h4.47v2.69h-4.47zM406.41 217.82h8.85v2.69h-8.85zM428.33 217.82h4.47v2.69h-4.47zM437.1 217.82h4.47v2.69h-4.47zM454.65 217.82h4.47v2.69h-4.47zM476.57 217.82h4.47v2.69h-4.47zM485.34 217.82h4.47v2.69h-4.47zM336.24 220.44h8.85v2.69h-8.85zM349.4 220.44h4.47v2.69h-4.47zM366.94 220.44h4.47v2.69h-4.47zM419.56 220.44h4.47v2.69h-4.47zM428.33 220.44h4.47v2.69h-4.47zM437.1 220.44h13.24v2.69h-13.24zM459.03 220.44h4.47v2.69h-4.47zM472.19 220.44h4.47v2.69h-4.47zM494.11 220.44h7.39v2.69h-7.39zM419.56 228.28h4.47v2.69h-4.47zM428.33 228.28h4.47v2.69h-4.47zM441.49 228.28h8.85v2.69h-8.85zM463.42 228.28h4.47v2.69h-4.47zM494.11 238.72h7.39v2.69h-7.39zM315.7 246.56h7.47v2.69h-7.47zM380.1 246.56h8.85v2.69h-8.85zM410.79 246.56h4.47v2.69h-4.47zM366.94 249.18h4.47v2.69h-4.47zM375.71 249.18h4.47v2.69h-4.47zM388.87 249.18h4.47v2.69h-4.47zM397.64 249.18h4.47v2.69h-4.47zM406.41 249.18h4.47v2.69h-4.47zM415.18 249.18h17.62v2.69h-17.62zM441.49 249.18h4.47v2.69h-4.47zM454.65 249.18h8.85v2.69h-8.85zM489.73 249.18h4.47v2.69h-4.47zM366.94 251.79h4.47v2.69h-4.47zM375.71 251.79h4.47v2.69h-4.47zM384.48 251.79h4.47v2.69h-4.47zM393.25 251.79h4.47v2.69h-4.47zM415.18 251.79h4.47v2.69h-4.47zM428.33 251.79h4.47v2.69h-4.47zM441.49 251.79h8.85v2.69h-8.85zM472.19 251.79h4.47v2.69h-4.47zM489.73 251.79h4.47v2.69h-4.47zM362.55 254.4h4.47v2.69h-4.47zM375.71 254.4h4.47v2.69h-4.47zM388.87 254.4h4.47v2.69h-4.47zM402.02 254.4h4.47v2.69h-4.47zM410.79 254.4h4.47v2.69h-4.47zM423.95 254.4h4.47v2.69h-4.47zM432.72 254.4h13.24v2.69h-13.24zM454.65 254.4h4.47v2.69h-4.47zM485.34 254.4h8.85v2.69h-8.85zM323.09 277.91h4.47v2.69h-4.47zM331.86 277.91h4.47v2.69h-4.47zM340.63 277.91h4.47v2.69h-4.47zM349.4 277.91h4.47v2.69h-4.47zM362.55 277.91h4.47v2.69h-4.47zM371.32 277.91h8.85v2.69h-8.85zM384.48 277.91h4.47v2.69h-4.47zM393.25 277.91h35.16v2.69h-35.16zM441.49 277.91h13.24v2.69h-13.24zM463.42 277.91h4.47v2.69h-4.47zM476.57 277.91h8.85v2.69h-8.85zM315.7 377.19h7.47v5.61h-7.47zM336.24 377.19h4.47v5.61h-4.47zM345.01 377.19h13.24v5.61h-13.24zM362.55 377.19h8.85v5.61h-8.85zM375.71 377.19h4.47v5.61h-4.47zM388.87 377.19h8.85v5.61h-8.85zM402.02 377.19h13.24v5.61h-13.24zM423.95 377.19h4.47v5.61h-4.47zM432.72 377.19h8.85v5.61h-8.85zM445.88 377.19h22.01v5.61h-22.01zM472.19 377.19h13.24v5.61h-13.24zM494.11 377.19h7.39v5.61h-7.39z"/>
<path fill="#3a548c" d="M349.4 209.6h4.47v5.69h-4.47zM480.96 215.21h4.47v2.69h-4.47zM340.63 217.82h4.47v2.69h-4.47zM423.95 217.82h4.47v2.69h-4.47zM459.03 217.82h4.47v2.69h-4.47zM472.19 217.82h4.47v2.69h-4.47zM489.73 217.82h4.47v2.69h-4.47zM315.7 220.44h7.47v2.69h-7.47zM380.1 220.44h4.47v2.69h-4.47zM410.79 220.44h4.47v2.69h-4.47zM454.65 220.44h4.47v2.69h-4.47zM485.34 220.44h4.47v2.69h-4.47zM437.1 228.28h4.47v2.69h-4.47zM454.65 228.28h4.47v2.69h-4.47zM467.8 228.28h17.62v2.69h-17.62zM489.73 238.72h4.47v2.69h-4.47zM323.09 246.56h4.47v2.69h-4.47zM331.86 246.56h4.47v2.69h-4.47zM353.78 249.18h4.47v2.69h-4.47zM371.32 249.18h4.47v2.69h-4.47zM380.1 249.18h4.47v2.69h-4.47zM393.25 249.18h4.47v2.69h-4.47zM410.79 249.18h4.47v2.69h-4.47zM467.8 249.18h4.47v2.69h-4.47zM345.01 251.79h22.01v2.69h-22.01zM371.32 251.79h4.47v2.69h-4.47zM380.1 251.79h4.47v2.69h-4.47zM388.87 251.79h4.47v2.69h-4.47zM410.79 251.79h4.47v2.69h-4.47zM419.56 251.79h8.85v2.69h-8.85zM467.8 251.79h4.47v2.69h-4.47zM349.4 254.4h4.47v2.69h-4.47zM358.17 254.4h4.47v2.69h-4.47zM366.94 254.4h4.47v2.69h-4.47zM384.48 254.4h4.47v2.69h-4.47zM393.25 254.4h8.85v2.69h-8.85zM415.18 254.4h8.85v2.69h-8.85zM428.33 254.4h4.47v2.69h-4.47zM467.8 254.4h4.47v2.69h-4.47zM450.26 257.01h4.47v2.69h-4.47zM480.96 257.01h4.47v2.69h-4.47zM494.11 257.01h7.39v2.69h-7.39zM380.1 277.91h4.47v2.69h-4.47zM428.33 277.91h4.47v2.69h-4.47zM437.1 277.91h4.47v2.69h-4.47zM454.65 277.91h8.85v2.69h-8.85zM467.8 277.91h8.85v2.69h-8.85zM485.34 277.91h4.47v2.69h-4.47zM494.11 277.91h7.39v2.69h-7.39zM480.96 280.52h4.47v2.69h-4.47zM323.09 377.19h13.24v5.61h-13.24zM340.63 377.19h4.47v5.61h-4.47zM358.17 377.19h4.47v5.61h-4.47zM371.32 377.19h4.47v5.61h-4.47zM380.1 377.19h8.85v5.61h-8.85zM397.64 377.19h4.47v5.61h-4.47zM415.18 377.19h8.85v5.61h-8.85zM428.33 377.19h4.47v5.61h-4.47zM441.49 377.19h4.47v5.61h-4.47zM467.8 377.19h4.47v5.61h-4.47zM485.34 377.19h8.85v5.61h-8.85z"/>
<path fill="#453781" d="M371.32 209.6h8.85v5.69h-8.85zM388.87 209.6h4.47v5.69h-4.47zM419.56 209.6h4.47v5.69h-4.47zM467.8 209.6h4.47v5.69h-4.47zM489.73 209.6h4.47v5.69h-4.47zM384.48 215.21h4.47v2.69h-4.47zM340.63 223.05h4.47v2.69h-4.47zM349.4 223.05h4.47v2.69h-4.47zM358.17 223.05h4.47v2.69h-4.47zM371.32 223.05h4.47v2.69h-4.47zM428.33 225.66h17.62v2.69h-17.62zM454.65 225.66h8.85v2.69h-8.85zM467.8 225.66h8.85v2.69h-8.85zM323.09 257.01h4.47v2.69h-4.47zM331.86 257.01h4.47v2.69h-4.47zM315.7 259.62h7.47v2.69h-7.47zM340.63 259.62h4.47v2.69h-4.47zM362.55 259.62h8.85v2.69h-8.85zM393.25 259.62h13.24v2.69h-13.24zM410.79 259.62h8.85v2.69h-8.85zM423.95 259.62h4.47v2.69h-4.47zM437.1 259.62h17.62v2.69h-17.62zM494.11 259.62h7.39v2.69h-7.39zM315.7 262.24h7.47v2.69h-7.47zM327.47 262.24h13.24v2.69h-13.24zM349.4 262.24h4.47v2.69h-4.47zM358.17 262.24h30.78v2.69h-30.78zM397.64 262.24h4.47v2.69h-4.47zM406.41 262.24h13.24v2.69h-13.24zM423.95 262.24h26.39v2.69h-26.39zM467.8 262.24h8.85v2.69h-8.85zM494.11 262.24h7.39v2.69h-7.39zM315.7 264.85h7.47v2.69h-7.47zM327.47 264.85h4.47v2.69h-4.47zM345.01 264.85h13.24v2.69h-13.24zM362.55 264.85h4.47v2.69h-4.47zM380.1 264.85h4.47v2.69h-4.47zM450.26 264.85h4.47v2.69h-4.47zM463.42 264.85h4.47v2.69h-4.47zM480.96 264.85h4.47v2.69h-4.47zM345.01 283.14h4.47v2.69h-4.47zM362.55 283.14h4.47v2.69h-4.47zM432.72 283.14h4.47v2.69h-4.47zM450.26 283.14h4.47v2.69h-4.47zM463.42 283.14h4.47v2.69h-4.47zM450.26 285.75h4.47v2.69h-4.47zM480.96 285.75h4.47v2.69h-4.47zM402.02 288.36h4.47v2.69h-4.47zM432.72 288.36h4.47v2.69h-4.47zM463.42 288.36h4.47v2.69h-4.47zM432.72 290.98h4.47v2.69h-4.47zM480.96 290.98h4.47v2.69h-4.47zM476.57 319.71h8.85v2.69h-8.85zM494.11 319.71h7.39v2.69h-7.39zM336.24 322.32h4.47v2.69h-4.47zM345.01 322.32h17.62v2.69h-17.62zM371.32 322.32h30.78v2.69h-30.78zM406.41 322.32h26.39v2.69h-26.39zM437.1 322.32h13.24v2.69h-13.24zM454.65 322.32h8.85v2.69h-8.85zM467.8 322.32h8.85v2.69h-8.85zM489.73 322.32h4.47v2.69h-4.47zM315.7 324.94h7.47v2.69h-7.47zM331.86 324.94h13.24v2.69h-13.24zM349.4 324.94h26.39v2.69h-26.39zM380.1 324.94h4.47v2.69h-4.47zM393.25 324.94h8.85v2.69h-8.85zM428.33 324.94h4.47v2.69h-4.47zM467.8 324.94h4.47v2.69h-4.47zM323.09 327.55h4.47v2.69h-4.47zM419.56 327.55h13.24v2.69h-13.24zM437.1 327.55h8.85v2.69h-8.85zM467.8 327.55h4.47v2.69h-4.47zM489.73 327.55h4.47v2.69h-4.47zM315.7 330.16h11.85v2.69h-11.85zM445.88 330.16h4.47v2.69h-4.47zM454.65 330.16h4.47v2.69h-4.47zM315.7 332.77h7.47v2.69h-7.47zM331.86 332.77h4.47v2.69h-4.47zM340.63 332.77h4.47v2.69h-4.47zM315.7 335.39h11.85v2.69h-11.85zM331.86 335.39h4.47v2.69h-4.47zM340.63 335.39h4.47v2.69h-4.47zM371.32 335.39h4.47v2.69h-4.47zM380.1 335.39h4.47v2.69h-4.47zM410.79 335.39h4.47v2.69h-4.47zM489.73 335.39h4.47v2.69h-4.47zM349.4 338h17.62v2.69h-17.62zM375.71 338h4.47v2.69h-4.47zM384.48 338h4.47v2.69h-4.47zM397.64 338h8.85v2.69h-8.85zM415.18 338h4.47v2.69h-4.47zM423.95 338h4.47v2.69h-4.47zM432.72 338h8.85v2.69h-8.85zM445.88 338h8.85v2.69h-8.85zM463.42 338h4.47v2.69h-4.47zM476.57 338h8.85v2.69h-8.85zM494.11 338h7.39v2.69h-7.39zM345.01 353.68h4.47v2.69h-4.47zM402.02 353.68h4.47v2.69h-4.47zM315.7 356.29h7.47v2.69h-7.47zM349.4 356.29h4.47v2.69h-4.47z"/>
<path fill="#46307e" d="M380.1 209.6h8.85v5.69h-8.85zM406.41 209.6h4.47v5.69h-4.47zM459.03 209.6h4.47v5.69h-4.47zM472.19 209.6h4.47v5.69h-4.47zM362.55 223.05h8.85v2.69h-8.85zM393.25 223.05h4.47v2.69h-4.47zM432.72 223.05h4.47v2.69h-4.47zM445.88 223.05h4.47v2.69h-4.47zM472.19 223.05h4.47v2.69h-4.47zM340.63 225.66h4.47v2.69h-4.47zM366.94 225.66h4.47v2.69h-4.47zM388.87 225.66h8.85v2.69h-8.85zM445.88 225.66h4.47v2.69h-4.47zM345.01 259.62h4.47v2.69h-4.47zM353.78 259.62h8.85v2.69h-8.85zM371.32 259.62h22.01v2.69h-22.01zM406.41 259.62h4.47v2.69h-4.47zM454.65 259.62h8.85v2.69h-8.85zM467.8 259.62h8.85v2.69h-8.85zM485.34 259.62h4.47v2.69h-4.47zM323.09 262.24h4.47v2.69h-4.47zM340.63 262.24h4.47v2.69h-4.47zM388.87 262.24h4.47v2.69h-4.47zM419.56 262.24h4.47v2.69h-4.47zM459.03 262.24h4.47v2.69h-4.47zM485.34 262.24h8.85v2.69h-8.85zM331.86 264.85h8.85v2.69h-8.85zM366.94 264.85h4.47v2.69h-4.47zM384.48 264.85h4.47v2.69h-4.47zM393.25 264.85h26.39v2.69h-26.39zM423.95 264.85h4.47v2.69h-4.47zM432.72 264.85h4.47v2.69h-4.47zM445.88 264.85h4.47v2.69h-4.47zM454.65 264.85h4.47v2.69h-4.47zM450.26 267.46h4.47v2.69h-4.47zM336.24 283.14h4.47v2.69h-4.47zM349.4 283.14h8.85v2.69h-8.85zM371.32 283.14h8.85v2.69h-8.85zM384.48 283.14h4.47v2.69h-4.47zM397.64 283.14h4.47v2.69h-4.47zM345.01 285.75h4.47v2.69h-4.47zM384.48 285.75h4.47v2.69h-4.47zM397.64 285.75h8.85v2.69h-8.85zM476.57 285.75h4.47v2.69h-4.47zM345.01 288.36h4.47v2.69h-4.47zM353.78 288.36h4.47v2.69h-4.47zM388.87 288.36h4.47v2.69h-4.47zM397.64 288.36h4.47v2.69h-4.47zM415.18 288.36h4.47v2.69h-4.47zM441.49 288.36h4.47v2.69h-4.47zM450.26 288.36h8.85v2.69h-8.85zM480.96 288.36h4.47v2.69h-4.47zM349.4 290.98h4.47v2.69h-4.47zM375.71 290.98h4.47v2.69h-4.47zM402.02 290.98h4.47v2.69h-4.47zM415.18 290.98h4.47v2.69h-4.47zM450.26 290.98h4.47v2.69h-4.47zM463.42 290.98h4.47v2.69h-4.47zM327.47 293.59h4.47v2.69h-4.47zM353.78 293.59h4.47v2.69h-4.47zM393.25 293.59h4.47v2.69h-4.47zM402.02 293.59h4.47v2.69h-4.47zM437.1 293.59h4.47v2.69h-4.47zM463.42 293.59h4.47v2.69h-4.47zM480.96 293.59h4.47v2.69h-4.47zM327.47 319.71h4.47v2.69h-4.47zM345.01 319.71h13.24v2.69h-13.24zM362.55 319.71h4.47v2.69h-4.47zM393.25 319.71h13.24v2.69h-13.24zM423.95 319.71h43.93v2.69h-43.93zM472.19 319.71h4.47v2.69h-4.47zM485.34 319.71h4.47v2.69h-4.47zM315.7 322.32h20.62v2.69h-20.62zM340.63 322.32h4.47v2.69h-4.47zM362.55 322.32h8.85v2.69h-8.85zM323.09 324.94h4.47v2.69h-4.47zM315.7 327.55h7.47v2.69h-7.47zM315.7 338h33.78v2.69h-33.78zM366.94 338h8.85v2.69h-8.85zM380.1 338h4.47v2.69h-4.47zM388.87 338h8.85v2.69h-8.85zM406.41 338h8.85v2.69h-8.85zM419.56 338h4.47v2.69h-4.47zM428.33 338h4.47v2.69h-4.47zM441.49 338h4.47v2.69h-4.47zM454.65 338h8.85v2.69h-8.85zM467.8 338h8.85v2.69h-8.85zM485.34 338h8.85v2.69h-8.85zM327.47 345.84h4.47v2.69h-4.47zM336.24 345.84h4.47v2.69h-4.47zM345.01 345.84h4.47v2.69h-4.47zM353.78 345.84h4.47v2.69h-4.47zM366.94 345.84h4.47v2.69h-4.47zM375.71 345.84h4.47v2.69h-4.47zM384.48 345.84h8.85v2.69h-8.85zM402.02 345.84h8.85v2.69h-8.85zM415.18 345.84h8.85v2.69h-8.85zM432.72 345.84h4.47v2.69h-4.47zM445.88 345.84h8.85v2.69h-8.85zM463.42 345.84h4.47v2.69h-4.47zM476.57 345.84h8.85v2.69h-8.85zM327.47 348.45h4.47v2.69h-4.47zM336.24 348.45h4.47v2.69h-4.47zM353.78 348.45h4.47v2.69h-4.47zM371.32 348.45h4.47v2.69h-4.47zM384.48 348.45h4.47v2.69h-4.47zM402.02 348.45h4.47v2.69h-4.47zM415.18 348.45h13.24v2.69h-13.24zM432.72 348.45h4.47v2.69h-4.47zM441.49 348.45h17.62v2.69h-17.62zM463.42 348.45h4.47v2.69h-4.47zM472.19 348.45h13.24v2.69h-13.24zM315.7 353.68h16.24v2.69h-16.24zM336.24 353.68h4.47v2.69h-4.47zM349.4 353.68h30.78v2.69h-30.78zM384.48 353.68h17.62v2.69h-17.62zM406.41 353.68h48.32v2.69h-48.32zM459.03 353.68h30.78v2.69h-30.78zM494.11 353.68h7.39v2.69h-7.39zM450.26 364.12h4.47v2.69h-4.47zM450.26 366.74h4.47v2.69h-4.47zM463.42 366.74h4.47v2.69h-4.47z"/>
<path fill="#433e85" d="M393.25 209.6h8.85v5.69h-8.85zM415.18 209.6h4.47v5.69h-4.47zM428.33 209.6h4.47v5.69h-4.47zM445.88 209.6h4.47v5.69h-4.47zM476.57 209.6h4.47v5.69h-4.47zM494.11 209.6h7.39v5.69h-7.39zM340.63 215.21h4.47v2.69h-4.47zM380.1 215.21h4.47v2.69h-4.47zM406.41 215.21h4.47v2.69h-4.47zM415.18 215.21h13.24v2.69h-13.24zM467.8 215.21h8.85v2.69h-8.85zM345.01 223.05h4.47v2.69h-4.47zM353.78 223.05h4.47v2.69h-4.47zM419.56 223.05h4.47v2.69h-4.47zM345.01 225.66h4.47v2.69h-4.47zM362.55 225.66h4.47v2.69h-4.47zM371.32 225.66h4.47v2.69h-4.47zM397.64 225.66h4.47v2.69h-4.47zM476.57 225.66h4.47v2.69h-4.47zM489.73 225.66h4.47v2.69h-4.47zM340.63 249.18h4.47v2.69h-4.47zM336.24 257.01h8.85v2.69h-8.85zM380.1 257.01h4.47v2.69h-4.47zM432.72 259.62h4.47v2.69h-4.47zM463.42 259.62h4.47v2.69h-4.47zM480.96 259.62h4.47v2.69h-4.47zM345.01 262.24h4.47v2.69h-4.47zM353.78 262.24h4.47v2.69h-4.47zM393.25 262.24h4.47v2.69h-4.47zM402.02 262.24h4.47v2.69h-4.47zM450.26 262.24h8.85v2.69h-8.85zM463.42 262.24h4.47v2.69h-4.47zM476.57 262.24h8.85v2.69h-8.85zM340.63 280.52h4.47v2.69h-4.47zM349.4 280.52h4.47v2.69h-4.47zM366.94 280.52h4.47v2.69h-4.47zM419.56 280.52h4.47v2.69h-4.47zM459.03 280.52h4.47v2.69h-4.47zM489.73 280.52h4.47v2.69h-4.47zM480.96 283.14h4.47v2.69h-4.47zM402.02 322.32h4.47v2.69h-4.47zM432.72 322.32h4.47v2.69h-4.47zM450.26 322.32h4.47v2.69h-4.47zM463.42 322.32h4.47v2.69h-4.47zM476.57 322.32h13.24v2.69h-13.24zM494.11 322.32h7.39v2.69h-7.39zM327.47 324.94h4.47v2.69h-4.47zM345.01 324.94h4.47v2.69h-4.47zM375.71 324.94h4.47v2.69h-4.47zM384.48 324.94h4.47v2.69h-4.47zM406.41 324.94h22.01v2.69h-22.01zM437.1 324.94h8.85v2.69h-8.85zM454.65 324.94h8.85v2.69h-8.85zM472.19 324.94h8.85v2.69h-8.85zM485.34 324.94h8.85v2.69h-8.85zM327.47 327.55h17.62v2.69h-17.62zM397.64 327.55h4.47v2.69h-4.47zM406.41 327.55h13.24v2.69h-13.24zM445.88 327.55h4.47v2.69h-4.47zM454.65 327.55h8.85v2.69h-8.85zM472.19 327.55h4.47v2.69h-4.47zM485.34 327.55h4.47v2.69h-4.47zM327.47 330.16h17.62v2.69h-17.62zM358.17 330.16h4.47v2.69h-4.47zM406.41 330.16h39.55v2.69h-39.55zM450.26 330.16h4.47v2.69h-4.47zM459.03 330.16h4.47v2.69h-4.47zM467.8 330.16h4.47v2.69h-4.47zM476.57 330.16h4.47v2.69h-4.47zM489.73 330.16h4.47v2.69h-4.47zM323.09 332.77h8.85v2.69h-8.85zM336.24 332.77h4.47v2.69h-4.47zM345.01 332.77h4.47v2.69h-4.47zM358.17 332.77h30.78v2.69h-30.78zM393.25 332.77h8.85v2.69h-8.85zM410.79 332.77h4.47v2.69h-4.47zM419.56 332.77h8.85v2.69h-8.85zM437.1 332.77h4.47v2.69h-4.47zM454.65 332.77h8.85v2.69h-8.85zM467.8 332.77h4.47v2.69h-4.47zM485.34 332.77h8.85v2.69h-8.85zM336.24 335.39h4.47v2.69h-4.47zM345.01 335.39h8.85v2.69h-8.85zM358.17 335.39h8.85v2.69h-8.85zM375.71 335.39h4.47v2.69h-4.47zM384.48 335.39h8.85v2.69h-8.85zM397.64 335.39h4.47v2.69h-4.47zM406.41 335.39h4.47v2.69h-4.47zM415.18 335.39h17.62v2.69h-17.62zM437.1 335.39h4.47v2.69h-4.47zM445.88 335.39h4.47v2.69h-4.47zM454.65 335.39h8.85v2.69h-8.85zM467.8 335.39h13.24v2.69h-13.24zM485.34 335.39h4.47v2.69h-4.47zM494.11 335.39h7.39v2.69h-7.39zM323.09 356.29h22.01v2.69h-22.01zM353.78 356.29h48.32v2.69h-48.32zM406.41 356.29h8.85v2.69h-8.85zM419.56 356.29h61.48v2.69h-61.48zM485.34 356.29h16.16v2.69h-16.16z"/>
<path fill="#3e4989" d="M402.02 209.6h4.47v5.69h-4.47zM441.49 209.6h4.47v5.69h-4.47zM450.26 209.6h4.47v5.69h-4.47zM331.86 215.21h8.85v2.69h-8.85zM393.25 215.21h8.85v2.69h-8.85zM437.1 215.21h4.47v2.69h-4.47zM445.88 215.21h4.47v2.69h-4.47zM485.34 215.21h16.16v2.69h-16.16zM402.02 223.05h4.47v2.69h-4.47zM402.02 225.66h8.85v2.69h-8.85zM463.42 225.66h4.47v2.69h-4.47zM480.96 225.66h4.47v2.69h-4.47zM485.34 228.28h4.47v2.69h-4.47zM331.86 249.18h4.47v2.69h-4.47zM323.09 251.79h4.47v2.69h-4.47zM340.63 251.79h4.47v2.69h-4.47zM315.7 254.4h7.47v2.69h-7.47zM340.63 254.4h4.47v2.69h-4.47zM345.01 257.01h4.47v2.69h-4.47zM353.78 257.01h13.24v2.69h-13.24zM371.32 257.01h8.85v2.69h-8.85zM388.87 257.01h8.85v2.69h-8.85zM406.41 257.01h4.47v2.69h-4.47zM419.56 257.01h4.47v2.69h-4.47zM441.49 257.01h8.85v2.69h-8.85zM467.8 257.01h4.47v2.69h-4.47zM489.73 257.01h4.47v2.69h-4.47zM327.47 280.52h13.24v2.69h-13.24zM353.78 280.52h4.47v2.69h-4.47zM362.55 280.52h4.47v2.69h-4.47zM380.1 280.52h17.62v2.69h-17.62zM406.41 280.52h8.85v2.69h-8.85zM423.95 280.52h4.47v2.69h-4.47zM432.72 280.52h4.47v2.69h-4.47zM441.49 280.52h8.85v2.69h-8.85zM485.34 280.52h4.47v2.69h-4.47zM494.11 280.52h7.39v2.69h-7.39zM375.71 327.55h4.47v2.69h-4.47zM388.87 327.55h4.47v2.69h-4.47zM345.01 330.16h4.47v2.69h-4.47zM353.78 330.16h4.47v2.69h-4.47zM388.87 330.16h8.85v2.69h-8.85zM402.02 330.16h4.47v2.69h-4.47z"/>
<path fill="#355f8d" d="M315.7 217.82h7.47v2.69h-7.47zM331.86 217.82h8.85v2.69h-8.85zM349.4 217.82h4.47v2.69h-4.47zM358.17 217.82h4.47v2.69h-4.47zM366.94 217.82h4.47v2.69h-4.47zM380.1 217.82h8.85v2.69h-8.85zM397.64 217.82h4.47v2.69h-4.47zM419.56 217.82h4.47v2.69h-4.47zM432.72 217.82h4.47v2.69h-4.47zM445.88 217.82h4.47v2.69h-4.47zM463.42 217.82h8.85v2.69h-8.85zM323.09 220.44h8.85v2.69h-8.85zM353.78 220.44h4.47v2.69h-4.47zM375.71 220.44h4.47v2.69h-4.47zM384.48 220.44h4.47v2.69h-4.47zM406.41 220.44h4.47v2.69h-4.47zM415.18 220.44h4.47v2.69h-4.47zM423.95 220.44h4.47v2.69h-4.47zM450.26 220.44h4.47v2.69h-4.47zM476.57 220.44h4.47v2.69h-4.47zM380.1 228.28h4.47v2.69h-4.47zM393.25 228.28h4.47v2.69h-4.47zM406.41 228.28h4.47v2.69h-4.47zM415.18 228.28h4.47v2.69h-4.47zM423.95 228.28h4.47v2.69h-4.47zM432.72 228.28h4.47v2.69h-4.47zM450.26 228.28h4.47v2.69h-4.47zM467.8 238.72h13.24v2.69h-13.24zM485.34 238.72h4.47v2.69h-4.47zM327.47 246.56h4.47v2.69h-4.47zM336.24 246.56h17.62v2.69h-17.62zM358.17 246.56h8.85v2.69h-8.85zM371.32 246.56h8.85v2.69h-8.85zM393.25 246.56h8.85v2.69h-8.85zM402.02 249.18h4.47v2.69h-4.47zM437.1 249.18h4.47v2.69h-4.47zM445.88 249.18h8.85v2.69h-8.85zM472.19 249.18h8.85v2.69h-8.85zM485.34 249.18h4.47v2.69h-4.47zM494.11 249.18h7.39v2.69h-7.39zM406.41 251.79h4.47v2.69h-4.47zM432.72 251.79h8.85v2.69h-8.85zM450.26 251.79h13.24v2.69h-13.24zM476.57 251.79h13.24v2.69h-13.24zM494.11 251.79h7.39v2.69h-7.39zM445.88 254.4h8.85v2.69h-8.85zM459.03 254.4h8.85v2.69h-8.85zM472.19 254.4h4.47v2.69h-4.47zM315.7 277.91h7.47v2.69h-7.47zM327.47 277.91h4.47v2.69h-4.47zM336.24 277.91h4.47v2.69h-4.47zM345.01 277.91h4.47v2.69h-4.47zM358.17 277.91h4.47v2.69h-4.47zM366.94 277.91h4.47v2.69h-4.47zM388.87 277.91h4.47v2.69h-4.47zM432.72 277.91h4.47v2.69h-4.47zM323.09 369.35h4.47v2.69h-4.47zM340.63 369.35h4.47v2.69h-4.47zM384.48 369.35h4.47v2.69h-4.47zM472.19 369.35h4.47v2.69h-4.47zM485.34 369.35h4.47v2.69h-4.47zM494.11 369.35h7.39v2.69h-7.39z"/>
<path fill="#32648e" d="M323.09 217.82h8.85v2.69h-8.85zM388.87 217.82h8.85v2.69h-8.85zM415.18 217.82h4.47v2.69h-4.47zM441.49 217.82h4.47v2.69h-4.47zM494.11 217.82h7.39v2.69h-7.39zM345.01 220.44h4.47v2.69h-4.47zM358.17 220.44h8.85v2.69h-8.85zM371.32 220.44h4.47v2.69h-4.47zM388.87 220.44h17.62v2.69h-17.62zM432.72 220.44h4.47v2.69h-4.47zM463.42 220.44h4.47v2.69h-4.47zM366.94 228.28h13.24v2.69h-13.24zM384.48 228.28h8.85v2.69h-8.85zM397.64 228.28h4.47v2.69h-4.47zM410.79 228.28h4.47v2.69h-4.47zM459.03 238.72h4.47v2.69h-4.47zM353.78 246.56h4.47v2.69h-4.47zM366.94 246.56h4.47v2.69h-4.47zM388.87 246.56h4.47v2.69h-4.47zM406.41 246.56h4.47v2.69h-4.47zM415.18 246.56h13.24v2.69h-13.24zM432.72 249.18h4.47v2.69h-4.47zM463.42 249.18h4.47v2.69h-4.47zM402.02 251.79h4.47v2.69h-4.47zM463.42 251.79h4.47v2.69h-4.47zM476.57 254.4h8.85v2.69h-8.85zM494.11 254.4h7.39v2.69h-7.39zM353.78 277.91h4.47v2.69h-4.47zM315.7 369.35h7.47v2.69h-7.47zM327.47 369.35h13.24v2.69h-13.24zM345.01 369.35h39.55v2.69h-39.55zM393.25 369.35h70.25v2.69h-70.25zM467.8 369.35h4.47v2.69h-4.47zM476.57 369.35h4.47v2.69h-4.47zM489.73 369.35h4.47v2.69h-4.47z"/>
<path fill="#306a8e" d="M345.01 217.82h4.47v2.69h-4.47zM353.78 217.82h4.47v2.69h-4.47zM362.55 217.82h4.47v2.69h-4.47zM375.71 217.82h4.47v2.69h-4.47zM402.02 217.82h4.47v2.69h-4.47zM450.26 217.82h4.47v2.69h-4.47zM480.96 217.82h4.47v2.69h-4.47zM480.96 220.44h4.47v2.69h-4.47zM331.86 228.28h4.47v2.69h-4.47zM340.63 228.28h4.47v2.69h-4.47zM349.4 228.28h4.47v2.69h-4.47zM358.17 228.28h4.47v2.69h-4.47zM402.02 228.28h4.47v2.69h-4.47zM454.65 238.72h4.47v2.69h-4.47zM463.42 238.72h4.47v2.69h-4.47zM480.96 238.72h4.47v2.69h-4.47zM402.02 246.56h4.47v2.69h-4.47zM428.33 246.56h4.47v2.69h-4.47zM441.49 246.56h4.47v2.69h-4.47zM480.96 249.18h4.47v2.69h-4.47zM388.87 369.35h4.47v2.69h-4.47zM463.42 369.35h4.47v2.69h-4.47zM480.96 369.35h4.47v2.69h-4.47z"/>
<path fill="#2e6f8e" d="M371.32 217.82h4.47v2.69h-4.47zM315.7 228.28h16.24v2.69h-16.24zM336.24 228.28h4.47v2.69h-4.47zM345.01 228.28h4.47v2.69h-4.47zM353.78 228.28h4.47v2.69h-4.47zM362.55 228.28h4.47v2.69h-4.47zM485.34 230.89h8.85v2.69h-8.85zM445.88 238.72h4.47v2.69h-4.47zM437.1 246.56h4.47v2.69h-4.47zM445.88 246.56h4.47v2.69h-4.47zM454.65 246.56h8.85v2.69h-8.85zM467.8 246.56h8.85v2.69h-8.85z"/>
<path fill="#481d6f" d="M315.7 223.05h16.24v2.69h-16.24zM380.1 223.05h4.47v2.69h-4.47zM489.73 223.05h4.47v2.69h-4.47zM315.7 225.66h16.24v2.69h-16.24zM489.73 259.62h4.47v2.69h-4.47zM380.1 283.14h4.47v2.69h-4.47zM315.7 285.75h7.47v2.69h-7.47zM331.86 285.75h4.47v2.69h-4.47zM340.63 285.75h4.47v2.69h-4.47zM459.03 285.75h4.47v2.69h-4.47zM467.8 285.75h8.85v2.69h-8.85zM489.73 285.75h4.47v2.69h-4.47zM331.86 288.36h4.47v2.69h-4.47zM340.63 288.36h4.47v2.69h-4.47zM366.94 288.36h8.85v2.69h-8.85zM380.1 288.36h4.47v2.69h-4.47zM485.34 288.36h8.85v2.69h-8.85zM336.24 290.98h4.47v2.69h-4.47zM371.32 290.98h4.47v2.69h-4.47zM380.1 290.98h4.47v2.69h-4.47zM406.41 290.98h4.47v2.69h-4.47zM423.95 290.98h4.47v2.69h-4.47zM467.8 290.98h4.47v2.69h-4.47zM485.34 290.98h8.85v2.69h-8.85zM340.63 293.59h4.47v2.69h-4.47zM467.8 293.59h8.85v2.69h-8.85zM485.34 293.59h8.85v2.69h-8.85zM315.7 296.2h11.85v2.69h-11.85zM331.86 296.2h4.47v2.69h-4.47zM340.63 296.2h4.47v2.69h-4.47zM362.55 296.2h4.47v2.69h-4.47zM371.32 296.2h4.47v2.69h-4.47zM380.1 296.2h8.85v2.69h-8.85zM393.25 296.2h8.85v2.69h-8.85zM410.79 296.2h4.47v2.69h-4.47zM419.56 296.2h4.47v2.69h-4.47zM437.1 296.2h4.47v2.69h-4.47zM454.65 296.2h4.47v2.69h-4.47zM467.8 296.2h8.85v2.69h-8.85zM485.34 296.2h8.85v2.69h-8.85zM463.42 298.81h4.47v2.69h-4.47zM336.24 317.1h4.47v2.69h-4.47zM345.01 317.1h4.47v2.69h-4.47zM353.78 317.1h4.47v2.69h-4.47zM362.55 317.1h17.62v2.69h-17.62zM393.25 317.1h4.47v2.69h-4.47zM402.02 317.1h4.47v2.69h-4.47zM410.79 317.1h4.47v2.69h-4.47zM419.56 317.1h4.47v2.69h-4.47zM428.33 317.1h8.85v2.69h-8.85zM445.88 317.1h8.85v2.69h-8.85zM463.42 317.1h4.47v2.69h-4.47zM472.19 317.1h13.24v2.69h-13.24zM494.11 317.1h7.39v2.69h-7.39zM331.86 340.61h4.47v2.69h-4.47zM489.73 340.61h4.47v2.69h-4.47zM331.86 343.23h4.47v2.69h-4.47zM371.32 343.23h4.47v2.69h-4.47zM380.1 343.23h8.85v2.69h-8.85zM428.33 343.23h4.47v2.69h-4.47zM467.8 343.23h4.47v2.69h-4.47zM327.47 364.12h4.47v2.69h-4.47zM336.24 364.12h4.47v2.69h-4.47zM345.01 364.12h13.24v2.69h-13.24zM366.94 364.12h4.47v2.69h-4.47zM375.71 364.12h4.47v2.69h-4.47zM384.48 364.12h4.47v2.69h-4.47zM393.25 364.12h8.85v2.69h-8.85zM406.41 364.12h4.47v2.69h-4.47zM415.18 364.12h4.47v2.69h-4.47zM423.95 364.12h8.85v2.69h-8.85zM467.8 364.12h4.47v2.69h-4.47zM315.7 366.74h7.47v2.69h-7.47zM327.47 366.74h4.47v2.69h-4.47zM345.01 366.74h8.85v2.69h-8.85zM358.17 366.74h22.01v2.69h-22.01zM384.48 366.74h4.47v2.69h-4.47zM393.25 366.74h8.85v2.69h-8.85zM410.79 366.74h4.47v2.69h-4.47zM437.1 366.74h4.47v2.69h-4.47zM489.73 366.74h4.47v2.69h-4.47z"/>
<path fill="#481769" d="M331.86 223.05h4.47v2.69h-4.47zM331.86 225.66h4.47v2.69h-4.47zM331.86 283.14h4.47v2.69h-4.47zM489.73 283.14h4.47v2.69h-4.47zM323.09 290.98h4.47v2.69h-4.47zM331.86 290.98h4.47v2.69h-4.47zM340.63 290.98h4.47v2.69h-4.47zM472.19 290.98h4.47v2.69h-4.47zM315.7 298.81h147.8v2.69h-147.8zM467.8 298.81h33.7v2.69h-33.7zM315.7 301.43h16.24v2.69h-16.24zM336.24 301.43h74.63v2.69h-74.63zM415.18 301.43h86.32v2.69h-86.32zM315.7 304.04h174.11v2.69h-174.11zM494.11 304.04h7.39v2.69h-7.39zM315.7 306.65h16.24v2.69h-16.24zM336.24 306.65h4.47v2.69h-4.47zM345.01 306.65h79.02v2.69h-79.02zM432.72 306.65h57.09v2.69h-57.09zM494.11 306.65h7.39v2.69h-7.39zM327.47 309.26h4.47v2.69h-4.47zM345.01 309.26h4.47v2.69h-4.47zM358.17 309.26h13.24v2.69h-13.24zM375.71 309.26h4.47v2.69h-4.47zM388.87 309.26h22.01v2.69h-22.01zM419.56 309.26h4.47v2.69h-4.47zM432.72 309.26h13.24v2.69h-13.24zM450.26 309.26h8.85v2.69h-8.85zM463.42 309.26h4.47v2.69h-4.47zM480.96 309.26h4.47v2.69h-4.47zM494.11 309.26h7.39v2.69h-7.39zM327.47 311.88h4.47v2.69h-4.47zM336.24 311.88h4.47v2.69h-4.47zM345.01 311.88h4.47v2.69h-4.47zM353.78 311.88h8.85v2.69h-8.85zM375.71 311.88h8.85v2.69h-8.85zM388.87 311.88h8.85v2.69h-8.85zM402.02 311.88h8.85v2.69h-8.85zM423.95 311.88h4.47v2.69h-4.47zM432.72 311.88h17.62v2.69h-17.62zM454.65 311.88h13.24v2.69h-13.24zM472.19 311.88h4.47v2.69h-4.47zM480.96 311.88h8.85v2.69h-8.85zM315.7 314.49h16.24v2.69h-16.24zM340.63 314.49h30.78v2.69h-30.78zM375.71 314.49h8.85v2.69h-8.85zM388.87 314.49h70.25v2.69h-70.25zM463.42 314.49h4.47v2.69h-4.47zM472.19 314.49h17.62v2.69h-17.62zM494.11 314.49h7.39v2.69h-7.39zM315.7 317.1h20.62v2.69h-20.62zM340.63 317.1h4.47v2.69h-4.47zM349.4 317.1h4.47v2.69h-4.47zM358.17 317.1h4.47v2.69h-4.47zM380.1 317.1h13.24v2.69h-13.24zM397.64 317.1h4.47v2.69h-4.47zM406.41 317.1h4.47v2.69h-4.47zM415.18 317.1h4.47v2.69h-4.47zM423.95 317.1h4.47v2.69h-4.47zM437.1 317.1h8.85v2.69h-8.85zM454.65 317.1h8.85v2.69h-8.85zM467.8 317.1h4.47v2.69h-4.47zM485.34 317.1h8.85v2.69h-8.85zM323.09 364.12h4.47v2.69h-4.47zM331.86 364.12h4.47v2.69h-4.47zM358.17 364.12h8.85v2.69h-8.85zM371.32 364.12h4.47v2.69h-4.47zM380.1 364.12h4.47v2.69h-4.47zM410.79 364.12h4.47v2.69h-4.47zM323.09 366.74h4.47v2.69h-4.47zM331.86 366.74h13.24v2.69h-13.24zM406.41 366.74h4.47v2.69h-4.47z"/>
<path fill="#472a7a" d="M336.24 223.05h4.47v2.69h-4.47zM375.71 223.05h4.47v2.69h-4.47zM388.87 223.05h4.47v2.69h-4.47zM428.33 223.05h4.47v2.69h-4.47zM437.1 223.05h8.85v2.69h-8.85zM450.26 223.05h17.62v2.69h-17.62zM476.57 223.05h8.85v2.69h-8.85zM494.11 223.05h7.39v2.69h-7.39zM423.95 225.66h4.47v2.69h-4.47zM323.09 259.62h17.62v2.69h-17.62zM349.4 259.62h4.47v2.69h-4.47zM419.56 259.62h4.47v2.69h-4.47zM476.57 259.62h4.47v2.69h-4.47zM323.09 264.85h4.47v2.69h-4.47zM340.63 264.85h4.47v2.69h-4.47zM358.17 264.85h4.47v2.69h-4.47zM371.32 264.85h8.85v2.69h-8.85zM388.87 264.85h4.47v2.69h-4.47zM419.56 264.85h4.47v2.69h-4.47zM428.33 264.85h4.47v2.69h-4.47zM437.1 264.85h8.85v2.69h-8.85zM459.03 264.85h4.47v2.69h-4.47zM472.19 264.85h8.85v2.69h-8.85zM494.11 264.85h7.39v2.69h-7.39zM323.09 267.46h8.85v2.69h-8.85zM336.24 267.46h4.47v2.69h-4.47zM345.01 267.46h8.85v2.69h-8.85zM358.17 267.46h17.62v2.69h-17.62zM402.02 267.46h4.47v2.69h-4.47zM415.18 267.46h8.85v2.69h-8.85zM428.33 267.46h8.85v2.69h-8.85zM445.88 267.46h4.47v2.69h-4.47zM463.42 267.46h4.47v2.69h-4.47zM476.57 267.46h13.24v2.69h-13.24zM494.11 267.46h7.39v2.69h-7.39zM315.7 283.14h11.85v2.69h-11.85zM358.17 283.14h4.47v2.69h-4.47zM366.94 283.14h4.47v2.69h-4.47zM388.87 283.14h4.47v2.69h-4.47zM402.02 283.14h17.62v2.69h-17.62zM428.33 283.14h4.47v2.69h-4.47zM437.1 283.14h4.47v2.69h-4.47zM454.65 283.14h8.85v2.69h-8.85zM467.8 283.14h4.47v2.69h-4.47zM494.11 283.14h7.39v2.69h-7.39zM349.4 285.75h4.47v2.69h-4.47zM358.17 285.75h8.85v2.69h-8.85zM375.71 285.75h4.47v2.69h-4.47zM388.87 285.75h8.85v2.69h-8.85zM423.95 285.75h4.47v2.69h-4.47zM432.72 285.75h8.85v2.69h-8.85zM445.88 285.75h4.47v2.69h-4.47zM454.65 285.75h4.47v2.69h-4.47zM463.42 285.75h4.47v2.69h-4.47zM494.11 285.75h7.39v2.69h-7.39zM327.47 288.36h4.47v2.69h-4.47zM362.55 288.36h4.47v2.69h-4.47zM406.41 288.36h4.47v2.69h-4.47zM419.56 288.36h13.24v2.69h-13.24zM437.1 288.36h4.47v2.69h-4.47zM445.88 288.36h4.47v2.69h-4.47zM467.8 288.36h4.47v2.69h-4.47zM476.57 288.36h4.47v2.69h-4.47zM494.11 288.36h7.39v2.69h-7.39zM327.47 290.98h4.47v2.69h-4.47zM388.87 290.98h4.47v2.69h-4.47zM397.64 290.98h4.47v2.69h-4.47zM419.56 290.98h4.47v2.69h-4.47zM428.33 290.98h4.47v2.69h-4.47zM441.49 290.98h8.85v2.69h-8.85zM454.65 290.98h8.85v2.69h-8.85zM494.11 290.98h7.39v2.69h-7.39zM345.01 293.59h4.47v2.69h-4.47zM375.71 293.59h4.47v2.69h-4.47zM388.87 293.59h4.47v2.69h-4.47zM397.64 293.59h4.47v2.69h-4.47zM406.41 293.59h8.85v2.69h-8.85zM432.72 293.59h4.47v2.69h-4.47zM441.49 293.59h4.47v2.69h-4.47zM450.26 293.59h4.47v2.69h-4.47zM476.57 293.59h4.47v2.69h-4.47zM494.11 293.59h7.39v2.69h-7.39zM323.09 319.71h4.47v2.69h-4.47zM336.24 319.71h8.85v2.69h-8.85zM358.17 319.71h4.47v2.69h-4.47zM366.94 319.71h26.39v2.69h-26.39zM406.41 319.71h17.62v2.69h-17.62zM467.8 319.71h4.47v2.69h-4.47zM489.73 319.71h4.47v2.69h-4.47zM349.4 340.61h4.47v2.69h-4.47zM450.26 340.61h4.47v2.69h-4.47zM353.78 343.23h4.47v2.69h-4.47zM437.1 343.23h4.47v2.69h-4.47zM463.42 343.23h4.47v2.69h-4.47zM315.7 345.84h11.85v2.69h-11.85zM331.86 345.84h4.47v2.69h-4.47zM340.63 345.84h4.47v2.69h-4.47zM349.4 345.84h4.47v2.69h-4.47zM358.17 345.84h8.85v2.69h-8.85zM371.32 345.84h4.47v2.69h-4.47zM380.1 345.84h4.47v2.69h-4.47zM393.25 345.84h8.85v2.69h-8.85zM410.79 345.84h4.47v2.69h-4.47zM423.95 345.84h8.85v2.69h-8.85zM437.1 345.84h8.85v2.69h-8.85zM454.65 345.84h8.85v2.69h-8.85zM467.8 345.84h8.85v2.69h-8.85zM485.34 345.84h16.16v2.69h-16.16zM315.7 348.45h11.85v2.69h-11.85zM331.86 348.45h4.47v2.69h-4.47zM340.63 348.45h13.24v2.69h-13.24zM358.17 348.45h13.24v2.69h-13.24zM375.71 348.45h8.85v2.69h-8.85zM388.87 348.45h13.24v2.69h-13.24zM406.41 348.45h8.85v2.69h-8.85zM428.33 348.45h4.47v2.69h-4.47zM437.1 348.45h4.47v2.69h-4.47zM459.03 348.45h4.47v2.69h-4.47zM467.8 348.45h4.47v2.69h-4.47zM485.34 348.45h16.16v2.69h-16.16zM315.7 351.06h7.47v2.69h-7.47zM327.47 351.06h4.47v2.69h-4.47zM336.24 351.06h4.47v2.69h-4.47zM345.01 351.06h4.47v2.69h-4.47zM353.78 351.06h13.24v2.69h-13.24zM371.32 351.06h13.24v2.69h-13.24zM388.87 351.06h4.47v2.69h-4.47zM402.02 351.06h4.47v2.69h-4.47zM415.18 351.06h8.85v2.69h-8.85zM432.72 351.06h8.85v2.69h-8.85zM450.26 351.06h4.47v2.69h-4.47zM463.42 351.06h4.47v2.69h-4.47zM480.96 351.06h4.47v2.69h-4.47zM331.86 353.68h4.47v2.69h-4.47zM340.63 353.68h4.47v2.69h-4.47zM380.1 353.68h4.47v2.69h-4.47zM454.65 353.68h4.47v2.69h-4.47zM489.73 353.68h4.47v2.69h-4.47zM402.02 364.12h4.47v2.69h-4.47zM432.72 364.12h8.85v2.69h-8.85zM445.88 364.12h4.47v2.69h-4.47zM463.42 364.12h4.47v2.69h-4.47zM480.96 364.12h4.47v2.69h-4.47zM432.72 366.74h4.47v2.69h-4.47zM445.88 366.74h4.47v2.69h-4.47z"/>
<path fill="#482475" d="M384.48 223.05h4.47v2.69h-4.47zM423.95 223.05h4.47v2.69h-4.47zM467.8 223.05h4.47v2.69h-4.47zM485.34 223.05h4.47v2.69h-4.47zM336.24 225.66h4.47v2.69h-4.47zM375.71 225.66h13.24v2.69h-13.24zM428.33 259.62h4.47v2.69h-4.47zM467.8 264.85h4.47v2.69h-4.47zM485.34 264.85h8.85v2.69h-8.85zM315.7 267.46h7.47v2.69h-7.47zM331.86 267.46h4.47v2.69h-4.47zM340.63 267.46h4.47v2.69h-4.47zM353.78 267.46h4.47v2.69h-4.47zM375.71 267.46h26.39v2.69h-26.39zM406.41 267.46h8.85v2.69h-8.85zM423.95 267.46h4.47v2.69h-4.47zM437.1 267.46h8.85v2.69h-8.85zM454.65 267.46h8.85v2.69h-8.85zM467.8 267.46h8.85v2.69h-8.85zM489.73 267.46h4.47v2.69h-4.47zM327.47 283.14h4.47v2.69h-4.47zM340.63 283.14h4.47v2.69h-4.47zM393.25 283.14h4.47v2.69h-4.47zM419.56 283.14h8.85v2.69h-8.85zM441.49 283.14h8.85v2.69h-8.85zM472.19 283.14h8.85v2.69h-8.85zM485.34 283.14h4.47v2.69h-4.47zM323.09 285.75h8.85v2.69h-8.85zM336.24 285.75h4.47v2.69h-4.47zM353.78 285.75h4.47v2.69h-4.47zM366.94 285.75h8.85v2.69h-8.85zM380.1 285.75h4.47v2.69h-4.47zM406.41 285.75h17.62v2.69h-17.62zM428.33 285.75h4.47v2.69h-4.47zM441.49 285.75h4.47v2.69h-4.47zM485.34 285.75h4.47v2.69h-4.47zM315.7 288.36h11.85v2.69h-11.85zM336.24 288.36h4.47v2.69h-4.47zM349.4 288.36h4.47v2.69h-4.47zM358.17 288.36h4.47v2.69h-4.47zM375.71 288.36h4.47v2.69h-4.47zM384.48 288.36h4.47v2.69h-4.47zM393.25 288.36h4.47v2.69h-4.47zM410.79 288.36h4.47v2.69h-4.47zM459.03 288.36h4.47v2.69h-4.47zM472.19 288.36h4.47v2.69h-4.47zM315.7 290.98h7.47v2.69h-7.47zM345.01 290.98h4.47v2.69h-4.47zM353.78 290.98h17.62v2.69h-17.62zM384.48 290.98h4.47v2.69h-4.47zM393.25 290.98h4.47v2.69h-4.47zM410.79 290.98h4.47v2.69h-4.47zM437.1 290.98h4.47v2.69h-4.47zM476.57 290.98h4.47v2.69h-4.47zM315.7 293.59h11.85v2.69h-11.85zM331.86 293.59h8.85v2.69h-8.85zM349.4 293.59h4.47v2.69h-4.47zM358.17 293.59h17.62v2.69h-17.62zM380.1 293.59h8.85v2.69h-8.85zM415.18 293.59h17.62v2.69h-17.62zM445.88 293.59h4.47v2.69h-4.47zM454.65 293.59h8.85v2.69h-8.85zM327.47 296.2h4.47v2.69h-4.47zM336.24 296.2h4.47v2.69h-4.47zM345.01 296.2h17.62v2.69h-17.62zM366.94 296.2h4.47v2.69h-4.47zM375.71 296.2h4.47v2.69h-4.47zM388.87 296.2h4.47v2.69h-4.47zM402.02 296.2h8.85v2.69h-8.85zM415.18 296.2h4.47v2.69h-4.47zM423.95 296.2h13.24v2.69h-13.24zM441.49 296.2h13.24v2.69h-13.24zM459.03 296.2h8.85v2.69h-8.85zM476.57 296.2h8.85v2.69h-8.85zM494.11 296.2h7.39v2.69h-7.39zM315.7 319.71h7.47v2.69h-7.47zM331.86 319.71h4.47v2.69h-4.47zM315.7 340.61h16.24v2.69h-16.24zM336.24 340.61h13.24v2.69h-13.24zM353.78 340.61h96.56v2.69h-96.56zM454.65 340.61h35.16v2.69h-35.16zM494.11 340.61h7.39v2.69h-7.39zM315.7 343.23h16.24v2.69h-16.24zM336.24 343.23h17.62v2.69h-17.62zM358.17 343.23h13.24v2.69h-13.24zM375.71 343.23h4.47v2.69h-4.47zM388.87 343.23h39.55v2.69h-39.55zM432.72 343.23h4.47v2.69h-4.47zM441.49 343.23h22.01v2.69h-22.01zM472.19 343.23h29.31v2.69h-29.31zM323.09 351.06h4.47v2.69h-4.47zM331.86 351.06h4.47v2.69h-4.47zM340.63 351.06h4.47v2.69h-4.47zM349.4 351.06h4.47v2.69h-4.47zM366.94 351.06h4.47v2.69h-4.47zM384.48 351.06h4.47v2.69h-4.47zM393.25 351.06h8.85v2.69h-8.85zM406.41 351.06h8.85v2.69h-8.85zM423.95 351.06h8.85v2.69h-8.85zM441.49 351.06h8.85v2.69h-8.85zM454.65 351.06h8.85v2.69h-8.85zM467.8 351.06h13.24v2.69h-13.24zM485.34 351.06h16.16v2.69h-16.16zM388.87 364.12h4.47v2.69h-4.47zM419.56 364.12h4.47v2.69h-4.47zM441.49 364.12h4.47v2.69h-4.47zM454.65 364.12h8.85v2.69h-8.85zM472.19 364.12h8.85v2.69h-8.85zM485.34 364.12h16.16v2.69h-16.16zM353.78 366.74h4.47v2.69h-4.47zM380.1 366.74h4.47v2.69h-4.47zM388.87 366.74h4.47v2.69h-4.47zM402.02 366.74h4.47v2.69h-4.47zM415.18 366.74h17.62v2.69h-17.62zM441.49 366.74h4.47v2.69h-4.47zM454.65 366.74h8.85v2.69h-8.85zM467.8 366.74h22.01v2.69h-22.01zM494.11 366.74h7.39v2.69h-7.39z"/>
<path fill="#fde725" d="M315.7 230.89h25.01v2.69h-25.01z"/>
<path fill="#95d840" d="M340.63 230.89h4.47v2.69h-4.47zM353.78 230.89h4.47v2.69h-4.47zM349.4 233.5h4.47v2.69h-4.47z"/>
<path fill="#b0dd2f" d="M345.01 230.89h4.47v2.69h-4.47z"/>
<path fill="#a2da37" d="M349.4 230.89h4.47v2.69h-4.47z"/>
<path fill="#7ad151" d="M358.17 230.89h13.24v2.69h-13.24zM358.17 233.5h8.85v2.69h-8.85zM327.47 272.69h13.24v2.69h-13.24zM349.4 272.69h17.62v2.69h-17.62zM371.32 272.69h4.47v2.69h-4.47zM485.34 272.69h16.16v2.69h-16.16z"/>
<path fill="#6ece58" d="M371.32 230.89h4.47v2.69h-4.47zM388.87 230.89h4.47v2.69h-4.47zM323.09 272.69h4.47v2.69h-4.47zM340.63 272.69h4.47v2.69h-4.47zM366.94 272.69h4.47v2.69h-4.47zM375.71 272.69h4.47v2.69h-4.47zM480.96 272.69h4.47v2.69h-4.47z"/>
<path fill="#63cb5f" d="M375.71 230.89h8.85v2.69h-8.85zM371.32 233.5h4.47v2.69h-4.47zM315.7 272.69h7.47v2.69h-7.47zM380.1 272.69h13.24v2.69h-13.24zM476.57 272.69h4.47v2.69h-4.47z"/>
<path fill="#58c765" d="M384.48 230.89h4.47v2.69h-4.47zM366.94 233.5h4.47v2.69h-4.47zM375.71 233.5h4.47v2.69h-4.47zM388.87 233.5h4.47v2.69h-4.47zM315.7 236.11h7.47v2.69h-7.47zM327.47 236.11h4.47v2.69h-4.47zM336.24 236.11h4.47v2.69h-4.47zM393.25 272.69h17.62v2.69h-17.62zM432.72 272.69h43.93v2.69h-43.93zM345.01 371.96h4.47v2.69h-4.47z"/>
<path fill="#4ec36b" d="M393.25 230.89h4.47v2.69h-4.47zM402.02 230.89h4.47v2.69h-4.47zM380.1 233.5h8.85v2.69h-8.85zM397.64 233.5h8.85v2.69h-8.85zM323.09 236.11h4.47v2.69h-4.47zM331.86 236.11h4.47v2.69h-4.47zM345.01 236.11h4.47v2.69h-4.47zM410.79 272.69h22.01v2.69h-22.01zM349.4 371.96h4.47v2.69h-4.47z"/>
<path fill="#44bf70" d="M397.64 230.89h4.47v2.69h-4.47zM406.41 230.89h4.47v2.69h-4.47zM393.25 233.5h4.47v2.69h-4.47zM349.4 236.11h8.85v2.69h-8.85zM362.55 236.11h8.85v2.69h-8.85zM327.47 371.96h17.62v2.69h-17.62zM353.78 371.96h4.47v2.69h-4.47z"/>
<path fill="#32b67a" d="M410.79 230.89h4.47v2.69h-4.47zM340.63 236.11h4.47v2.69h-4.47zM371.32 236.11h4.47v2.69h-4.47zM380.1 236.11h4.47v2.69h-4.47zM397.64 236.11h13.24v2.69h-13.24zM315.7 371.96h7.47v2.69h-7.47zM366.94 371.96h13.24v2.69h-13.24z"/>
<path fill="#2cb17e" d="M415.18 230.89h4.47v2.69h-4.47zM419.56 233.5h4.47v2.69h-4.47zM393.25 236.11h4.47v2.69h-4.47zM384.48 371.96h4.47v2.69h-4.47z"/>
<path fill="#26ad81" d="M419.56 230.89h8.85v2.69h-8.85zM423.95 233.5h4.47v2.69h-4.47zM380.1 371.96h4.47v2.69h-4.47zM388.87 371.96h17.62v2.69h-17.62z"/>
<path fill="#22a884" d="M428.33 230.89h8.85v2.69h-8.85zM428.33 233.5h8.85v2.69h-8.85zM410.79 236.11h8.85v2.69h-8.85zM463.42 243.95h4.47v2.69h-4.47zM406.41 371.96h13.24v2.69h-13.24z"/>
<path fill="#20a386" d="M437.1 230.89h4.47v2.69h-4.47zM437.1 233.5h8.85v2.69h-8.85zM419.56 236.11h8.85v2.69h-8.85zM450.26 243.95h4.47v2.69h-4.47zM480.96 243.95h4.47v2.69h-4.47zM419.56 371.96h8.85v2.69h-8.85zM432.72 371.96h4.47v2.69h-4.47z"/>
<path fill="#1f9a8a" d="M441.49 230.89h4.47v2.69h-4.47zM463.42 233.5h4.47v2.69h-4.47zM476.57 233.5h4.47v2.69h-4.47zM428.33 236.11h4.47v2.69h-4.47zM463.42 236.11h4.47v2.69h-4.47zM454.65 243.95h4.47v2.69h-4.47zM327.47 270.07h4.47v2.69h-4.47zM345.01 270.07h4.47v2.69h-4.47zM358.17 270.07h4.47v2.69h-4.47zM375.71 270.07h4.47v2.69h-4.47zM388.87 270.07h4.47v2.69h-4.47zM402.02 270.07h4.47v2.69h-4.47zM419.56 270.07h8.85v2.69h-8.85zM432.72 270.07h22.01v2.69h-22.01zM476.57 270.07h8.85v2.69h-8.85zM315.7 275.3h16.24v2.69h-16.24zM345.01 275.3h4.47v2.69h-4.47zM445.88 371.96h4.47v2.69h-4.47zM459.03 371.96h8.85v2.69h-8.85z"/>
<path fill="#1f958b" d="M445.88 230.89h4.47v2.69h-4.47zM454.65 233.5h4.47v2.69h-4.47zM494.11 233.5h7.39v2.69h-7.39zM437.1 236.11h13.24v2.69h-13.24zM480.96 236.11h4.47v2.69h-4.47zM494.11 236.11h7.39v2.69h-7.39zM327.47 238.72h4.47v2.69h-4.47zM345.01 238.72h4.47v2.69h-4.47zM353.78 238.72h4.47v2.69h-4.47zM362.55 238.72h8.85v2.69h-8.85zM327.47 241.34h4.47v2.69h-4.47zM336.24 241.34h4.47v2.69h-4.47zM353.78 243.95h4.47v2.69h-4.47zM423.95 243.95h8.85v2.69h-8.85zM467.8 243.95h4.47v2.69h-4.47zM485.34 243.95h4.47v2.69h-4.47zM315.7 270.07h11.85v2.69h-11.85zM336.24 270.07h8.85v2.69h-8.85zM349.4 270.07h8.85v2.69h-8.85zM362.55 270.07h13.24v2.69h-13.24zM380.1 270.07h8.85v2.69h-8.85zM393.25 270.07h8.85v2.69h-8.85zM406.41 270.07h13.24v2.69h-13.24zM428.33 270.07h4.47v2.69h-4.47zM454.65 270.07h8.85v2.69h-8.85zM467.8 270.07h8.85v2.69h-8.85zM485.34 270.07h16.16v2.69h-16.16zM331.86 275.3h13.24v2.69h-13.24zM349.4 275.3h4.47v2.69h-4.47zM358.17 275.3h48.32v2.69h-48.32zM432.72 275.3h4.47v2.69h-4.47zM467.8 371.96h22.01v2.69h-22.01z"/>
<path fill="#228b8d" d="M450.26 230.89h4.47v2.69h-4.47zM467.8 233.5h4.47v2.69h-4.47zM485.34 236.11h8.85v2.69h-8.85zM323.09 238.72h4.47v2.69h-4.47zM331.86 238.72h4.47v2.69h-4.47zM340.63 238.72h4.47v2.69h-4.47zM375.71 238.72h4.47v2.69h-4.47zM384.48 238.72h8.85v2.69h-8.85zM397.64 238.72h4.47v2.69h-4.47zM406.41 238.72h4.47v2.69h-4.47zM415.18 238.72h4.47v2.69h-4.47zM432.72 238.72h4.47v2.69h-4.47zM315.7 241.34h11.85v2.69h-11.85zM331.86 241.34h4.47v2.69h-4.47zM340.63 241.34h4.47v2.69h-4.47zM353.78 241.34h8.85v2.69h-8.85zM384.48 241.34h4.47v2.69h-4.47zM393.25 241.34h4.47v2.69h-4.47zM402.02 241.34h4.47v2.69h-4.47zM432.72 241.34h4.47v2.69h-4.47zM315.7 243.95h7.47v2.69h-7.47zM345.01 243.95h8.85v2.69h-8.85zM358.17 243.95h17.62v2.69h-17.62zM459.03 275.3h4.47v2.69h-4.47zM467.8 275.3h8.85v2.69h-8.85zM485.34 275.3h4.47v2.69h-4.47zM494.11 275.3h7.39v2.69h-7.39zM315.7 358.9h7.47v2.69h-7.47zM327.47 358.9h4.47v2.69h-4.47zM345.01 358.9h4.47v2.69h-4.47zM353.78 358.9h4.47v2.69h-4.47zM362.55 358.9h4.47v2.69h-4.47zM375.71 358.9h4.47v2.69h-4.47zM384.48 358.9h13.24v2.69h-13.24zM402.02 358.9h4.47v2.69h-4.47zM410.79 358.9h8.85v2.69h-8.85zM423.95 358.9h4.47v2.69h-4.47zM441.49 358.9h13.24v2.69h-13.24zM459.03 358.9h17.62v2.69h-17.62zM480.96 358.9h4.47v2.69h-4.47zM494.11 358.9h7.39v2.69h-7.39zM315.7 361.51h7.47v2.69h-7.47zM327.47 361.51h4.47v2.69h-4.47zM345.01 361.51h13.24v2.69h-13.24zM362.55 361.51h4.47v2.69h-4.47zM388.87 361.51h22.01v2.69h-22.01zM415.18 361.51h4.47v2.69h-4.47zM432.72 361.51h4.47v2.69h-4.47zM445.88 361.51h8.85v2.69h-8.85zM463.42 361.51h4.47v2.69h-4.47zM472.19 361.51h13.24v2.69h-13.24zM494.11 361.51h7.39v2.69h-7.39zM489.73 371.96h4.47v2.69h-4.47z"/>
<path fill="#24868e" d="M454.65 230.89h4.47v2.69h-4.47zM463.42 230.89h4.47v2.69h-4.47zM467.8 236.11h4.47v2.69h-4.47zM397.64 241.34h4.47v2.69h-4.47zM323.09 243.95h4.47v2.69h-4.47zM331.86 243.95h4.47v2.69h-4.47zM340.63 243.95h4.47v2.69h-4.47zM380.1 243.95h17.62v2.69h-17.62zM402.02 243.95h4.47v2.69h-4.47zM489.73 275.3h4.47v2.69h-4.47zM323.09 358.9h4.47v2.69h-4.47zM331.86 358.9h13.24v2.69h-13.24zM349.4 358.9h4.47v2.69h-4.47zM358.17 358.9h4.47v2.69h-4.47zM366.94 358.9h8.85v2.69h-8.85zM380.1 358.9h4.47v2.69h-4.47zM397.64 358.9h4.47v2.69h-4.47zM406.41 358.9h4.47v2.69h-4.47zM419.56 358.9h4.47v2.69h-4.47zM428.33 358.9h13.24v2.69h-13.24zM454.65 358.9h4.47v2.69h-4.47zM476.57 358.9h4.47v2.69h-4.47zM485.34 358.9h8.85v2.69h-8.85zM323.09 361.51h4.47v2.69h-4.47zM331.86 361.51h13.24v2.69h-13.24zM358.17 361.51h4.47v2.69h-4.47zM366.94 361.51h22.01v2.69h-22.01zM410.79 361.51h4.47v2.69h-4.47zM419.56 361.51h13.24v2.69h-13.24zM437.1 361.51h8.85v2.69h-8.85zM454.65 361.51h8.85v2.69h-8.85zM467.8 361.51h4.47v2.69h-4.47zM485.34 361.51h8.85v2.69h-8.85z"/>
<path fill="#287d8e" d="M459.03 230.89h4.47v2.69h-4.47zM472.19 230.89h13.24v2.69h-13.24zM441.49 238.72h4.47v2.69h-4.47zM450.26 238.72h4.47v2.69h-4.47zM423.95 241.34h8.85v2.69h-8.85zM437.1 241.34h8.85v2.69h-8.85zM450.26 241.34h8.85v2.69h-8.85zM472.19 241.34h4.47v2.69h-4.47zM406.41 243.95h4.47v2.69h-4.47zM476.57 246.56h4.47v2.69h-4.47zM494.11 246.56h7.39v2.69h-7.39zM450.26 374.58h4.47v2.69h-4.47zM480.96 374.58h4.47v2.69h-4.47z"/>
<path fill="#2a788e" d="M467.8 230.89h4.47v2.69h-4.47zM494.11 230.89h7.39v2.69h-7.39zM459.03 241.34h4.47v2.69h-4.47zM467.8 241.34h4.47v2.69h-4.47zM485.34 241.34h4.47v2.69h-4.47zM463.42 246.56h4.47v2.69h-4.47zM480.96 246.56h8.85v2.69h-8.85zM327.47 374.58h4.47v2.69h-4.47zM336.24 374.58h48.32v2.69h-48.32zM388.87 374.58h61.48v2.69h-61.48zM454.65 374.58h4.47v2.69h-4.47zM463.42 374.58h17.62v2.69h-17.62zM485.34 374.58h4.47v2.69h-4.47zM494.11 374.58h7.39v2.69h-7.39z"/>
<path fill="#d8e219" d="M315.7 233.5h7.47v2.69h-7.47z"/>
<path fill="#cae11f" d="M323.09 233.5h4.47v2.69h-4.47zM331.86 233.5h8.85v2.69h-8.85z"/>
<path fill="#e5e419" d="M327.47 233.5h4.47v2.69h-4.47z"/>
<path fill="#86d549" d="M340.63 233.5h8.85v2.69h-8.85zM353.78 233.5h4.47v2.69h-4.47zM345.01 272.69h4.47v2.69h-4.47z"/>
<path fill="#3bbb75" d="M406.41 233.5h13.24v2.69h-13.24zM358.17 236.11h4.47v2.69h-4.47zM375.71 236.11h4.47v2.69h-4.47zM384.48 236.11h8.85v2.69h-8.85zM323.09 371.96h4.47v2.69h-4.47zM358.17 371.96h8.85v2.69h-8.85z"/>
<path fill="#1f9f88" d="M445.88 233.5h8.85v2.69h-8.85zM480.96 233.5h4.47v2.69h-4.47zM432.72 236.11h4.47v2.69h-4.47zM450.26 236.11h4.47v2.69h-4.47zM432.72 243.95h17.62v2.69h-17.62zM459.03 243.95h4.47v2.69h-4.47zM472.19 243.95h8.85v2.69h-8.85zM494.11 243.95h7.39v2.69h-7.39zM463.42 270.07h4.47v2.69h-4.47zM353.78 275.3h4.47v2.69h-4.47zM428.33 371.96h4.47v2.69h-4.47zM437.1 371.96h8.85v2.69h-8.85zM450.26 371.96h8.85v2.69h-8.85z"/>
<path fill="#21918c" d="M459.03 233.5h4.47v2.69h-4.47zM472.19 233.5h4.47v2.69h-4.47zM485.34 233.5h8.85v2.69h-8.85zM454.65 236.11h8.85v2.69h-8.85zM472.19 236.11h8.85v2.69h-8.85zM315.7 238.72h7.47v2.69h-7.47zM336.24 238.72h4.47v2.69h-4.47zM349.4 238.72h4.47v2.69h-4.47zM358.17 238.72h4.47v2.69h-4.47zM371.32 238.72h4.47v2.69h-4.47zM380.1 238.72h4.47v2.69h-4.47zM402.02 238.72h4.47v2.69h-4.47zM345.01 241.34h8.85v2.69h-8.85zM362.55 241.34h22.01v2.69h-22.01zM388.87 241.34h4.47v2.69h-4.47zM327.47 243.95h4.47v2.69h-4.47zM336.24 243.95h4.47v2.69h-4.47zM375.71 243.95h4.47v2.69h-4.47zM415.18 243.95h8.85v2.69h-8.85zM489.73 243.95h4.47v2.69h-4.47zM331.86 270.07h4.47v2.69h-4.47zM406.41 275.3h26.39v2.69h-26.39zM437.1 275.3h22.01v2.69h-22.01zM463.42 275.3h4.47v2.69h-4.47zM476.57 275.3h8.85v2.69h-8.85zM494.11 371.96h7.39v2.69h-7.39z"/>
<path fill="#26828e" d="M393.25 238.72h4.47v2.69h-4.47zM410.79 238.72h4.47v2.69h-4.47zM419.56 238.72h13.24v2.69h-13.24zM437.1 238.72h4.47v2.69h-4.47zM406.41 241.34h17.62v2.69h-17.62zM445.88 241.34h4.47v2.69h-4.47zM463.42 241.34h4.47v2.69h-4.47zM476.57 241.34h8.85v2.69h-8.85zM494.11 241.34h7.39v2.69h-7.39zM397.64 243.95h4.47v2.69h-4.47zM410.79 243.95h4.47v2.69h-4.47z"/>
<path fill="#2c738e" d="M489.73 241.34h4.47v2.69h-4.47zM432.72 246.56h4.47v2.69h-4.47zM450.26 246.56h4.47v2.69h-4.47zM489.73 246.56h4.47v2.69h-4.47zM315.7 374.58h11.85v2.69h-11.85zM331.86 374.58h4.47v2.69h-4.47zM384.48 374.58h4.47v2.69h-4.47zM459.03 374.58h4.47v2.69h-4.47zM489.73 374.58h4.47v2.69h-4.47z"/>
<path fill="#471063" d="M331.86 301.43h4.47v2.69h-4.47zM410.79 301.43h4.47v2.69h-4.47zM489.73 304.04h4.47v2.69h-4.47zM331.86 306.65h4.47v2.69h-4.47zM340.63 306.65h4.47v2.69h-4.47zM423.95 306.65h8.85v2.69h-8.85zM489.73 306.65h4.47v2.69h-4.47zM315.7 309.26h11.85v2.69h-11.85zM331.86 309.26h13.24v2.69h-13.24zM349.4 309.26h8.85v2.69h-8.85zM371.32 309.26h4.47v2.69h-4.47zM380.1 309.26h8.85v2.69h-8.85zM410.79 309.26h8.85v2.69h-8.85zM423.95 309.26h8.85v2.69h-8.85zM445.88 309.26h4.47v2.69h-4.47zM459.03 309.26h4.47v2.69h-4.47zM467.8 309.26h13.24v2.69h-13.24zM485.34 309.26h8.85v2.69h-8.85zM315.7 311.88h11.85v2.69h-11.85zM331.86 311.88h4.47v2.69h-4.47zM340.63 311.88h4.47v2.69h-4.47zM349.4 311.88h4.47v2.69h-4.47zM362.55 311.88h13.24v2.69h-13.24zM384.48 311.88h4.47v2.69h-4.47zM397.64 311.88h4.47v2.69h-4.47zM410.79 311.88h13.24v2.69h-13.24zM428.33 311.88h4.47v2.69h-4.47zM450.26 311.88h4.47v2.69h-4.47zM467.8 311.88h4.47v2.69h-4.47zM476.57 311.88h4.47v2.69h-4.47zM489.73 311.88h11.77v2.69h-11.77zM331.86 314.49h8.85v2.69h-8.85zM371.32 314.49h4.47v2.69h-4.47zM384.48 314.49h4.47v2.69h-4.47zM459.03 314.49h4.47v2.69h-4.47zM467.8 314.49h4.47v2.69h-4.47zM489.73 314.49h4.47v2.69h-4.47zM315.7 364.12h7.47v2.69h-7.47zM340.63 364.12h4.47v2.69h-4.47z"/>
</g></g>
<rect x="318.70" y="212.60" width="179.80" height="167.20" fill="none" stroke="#4a4a4a" stroke-width="0.7"/>
<line x1="310.70" y1="212.60" x2="318.70" y2="212.60" stroke="#333" stroke-width="0.55"/>
<line x1="310.70" y1="253.30" x2="318.70" y2="253.30" stroke="#333" stroke-width="0.55"/>
<line x1="310.70" y1="294.60" x2="318.70" y2="294.60" stroke="#333" stroke-width="0.55"/>
<line x1="310.70" y1="336.00" x2="318.70" y2="336.00" stroke="#333" stroke-width="0.55"/>
<line x1="310.70" y1="379.20" x2="318.70" y2="379.20" stroke="#333" stroke-width="0.55"/>
<text x="312.10" y="231.60" font-size="6.1" text-anchor="middle" fill="#000" dominant-baseline="central">4</text>
<text x="312.10" y="274.10" font-size="6.1" text-anchor="middle" fill="#000" dominant-baseline="central">3</text>
<text x="312.10" y="315.50" font-size="6.1" text-anchor="middle" fill="#000" dominant-baseline="central">2</text>
<text x="312.10" y="359.30" font-size="6.1" text-anchor="middle" fill="#000" dominant-baseline="central">1</text>
<text x="295.30" y="296.00" font-size="6.1" text-anchor="middle" fill="#000" dominant-baseline="central" transform="rotate(-90 295.30 296.00)">layers</text>
<line x1="318.70" y1="379.80" x2="318.70" y2="381.30" stroke="#4a4a4a" stroke-width="0.6"/>
<text x="318.70" y="386.70" font-size="6.1" text-anchor="middle" fill="#000" dominant-baseline="central">0.000</text>
<line x1="341.18" y1="379.80" x2="341.18" y2="381.30" stroke="#4a4a4a" stroke-width="0.6"/>
<text x="341.18" y="386.70" font-size="6.1" text-anchor="middle" fill="#000" dominant-baseline="central">0.025</text>
<line x1="363.65" y1="379.80" x2="363.65" y2="381.30" stroke="#4a4a4a" stroke-width="0.6"/>
<text x="363.65" y="386.70" font-size="6.1" text-anchor="middle" fill="#000" dominant-baseline="central">0.050</text>
<line x1="386.12" y1="379.80" x2="386.12" y2="381.30" stroke="#4a4a4a" stroke-width="0.6"/>
<text x="386.12" y="386.70" font-size="6.1" text-anchor="middle" fill="#000" dominant-baseline="central">0.075</text>
<line x1="408.60" y1="379.80" x2="408.60" y2="381.30" stroke="#4a4a4a" stroke-width="0.6"/>
<text x="408.60" y="386.70" font-size="6.1" text-anchor="middle" fill="#000" dominant-baseline="central">0.100</text>
<line x1="431.07" y1="379.80" x2="431.07" y2="381.30" stroke="#4a4a4a" stroke-width="0.6"/>
<text x="431.07" y="386.70" font-size="6.1" text-anchor="middle" fill="#000" dominant-baseline="central">0.125</text>
<line x1="453.55" y1="379.80" x2="453.55" y2="381.30" stroke="#4a4a4a" stroke-width="0.6"/>
<text x="453.55" y="386.70" font-size="6.1" text-anchor="middle" fill="#000" dominant-baseline="central">0.150</text>
<line x1="476.02" y1="379.80" x2="476.02" y2="381.30" stroke="#4a4a4a" stroke-width="0.6"/>
<text x="476.02" y="386.70" font-size="6.1" text-anchor="middle" fill="#000" dominant-baseline="central">0.175</text>
<line x1="498.50" y1="379.80" x2="498.50" y2="381.30" stroke="#4a4a4a" stroke-width="0.6"/>
<text x="498.50" y="386.70" font-size="6.1" text-anchor="middle" fill="#000" dominant-baseline="central">0.200</text>
<text x="408.20" y="396.00" font-size="6.22" text-anchor="middle" fill="#000" dominant-baseline="central">time (s)</text>
<defs><linearGradient id="gd" x1="0" y1="1" x2="0" y2="0">
<stop offset="0.0000" stop-color="#440154"/>
<stop offset="0.0312" stop-color="#470d60"/>
<stop offset="0.0625" stop-color="#48186a"/>
<stop offset="0.0938" stop-color="#482374"/>
<stop offset="0.1250" stop-color="#472d7b"/>
<stop offset="0.1562" stop-color="#453781"/>
<stop offset="0.1875" stop-color="#424086"/>
<stop offset="0.2188" stop-color="#3e4989"/>
<stop offset="0.2500" stop-color="#3b528b"/>
<stop offset="0.2812" stop-color="#375b8d"/>
<stop offset="0.3125" stop-color="#33638d"/>
<stop offset="0.3438" stop-color="#2f6b8e"/>
<stop offset="0.3750" stop-color="#2c728e"/>
<stop offset="0.4062" stop-color="#297a8e"/>
<stop offset="0.4375" stop-color="#26828e"/>
<stop offset="0.4688" stop-color="#23898e"/>
<stop offset="0.5000" stop-color="#21918c"/>
<stop offset="0.5312" stop-color="#1f988b"/>
<stop offset="0.5625" stop-color="#1fa088"/>
<stop offset="0.5938" stop-color="#22a785"/>
<stop offset="0.6250" stop-color="#28ae80"/>
<stop offset="0.6562" stop-color="#32b67a"/>
<stop offset="0.6875" stop-color="#3fbc73"/>
<stop offset="0.7188" stop-color="#4ec36b"/>
<stop offset="0.7500" stop-color="#5ec962"/>
<stop offset="0.7812" stop-color="#70cf57"/>
<stop offset="0.8125" stop-color="#84d44b"/>
<stop offset="0.8438" stop-color="#98d83e"/>
<stop offset="0.8750" stop-color="#addc30"/>
<stop offset="0.9062" stop-color="#c2df23"/>
<stop offset="0.9375" stop-color="#d8e219"/>
<stop offset="0.9688" stop-color="#ece51b"/>
<stop offset="1.0000" stop-color="#fde725"/>
</linearGradient></defs>
<rect x="509.60" y="212.60" width="8.90" height="167.20" fill="url(#gd)"/>
<rect x="509.60" y="212.60" width="8.90" height="167.20" fill="none" stroke="#4a4a4a" stroke-width="0.6"/>
<line x1="518.50" y1="212.20" x2="520.00" y2="212.20" stroke="#4a4a4a" stroke-width="0.6"/>
<text x="523.00" y="212.20" font-size="6.1" text-anchor="start" fill="#000" dominant-baseline="central">1.00</text>
<line x1="518.50" y1="245.78" x2="520.00" y2="245.78" stroke="#4a4a4a" stroke-width="0.6"/>
<text x="523.00" y="245.78" font-size="6.1" text-anchor="start" fill="#000" dominant-baseline="central">0.80</text>
<line x1="518.50" y1="279.36" x2="520.00" y2="279.36" stroke="#4a4a4a" stroke-width="0.6"/>
<text x="523.00" y="279.36" font-size="6.1" text-anchor="start" fill="#000" dominant-baseline="central">0.60</text>
<line x1="518.50" y1="312.94" x2="520.00" y2="312.94" stroke="#4a4a4a" stroke-width="0.6"/>
<text x="523.00" y="312.94" font-size="6.1" text-anchor="start" fill="#000" dominant-baseline="central">0.40</text>
<line x1="518.50" y1="346.52" x2="520.00" y2="346.52" stroke="#4a4a4a" stroke-width="0.6"/>
<text x="523.00" y="346.52" font-size="6.1" text-anchor="start" fill="#000" dominant-baseline="central">0.20</text>
<line x1="518.50" y1="380.10" x2="520.00" y2="380.10" stroke="#4a4a4a" stroke-width="0.6"/>
<text x="523.00" y="380.10" font-size="6.1" text-anchor="start" fill="#000" dominant-baseline="central">0.00</text>
<text x="543.40" y="293.60" font-size="5.92" text-anchor="middle" fill="#000" dominant-baseline="central" transform="rotate(-90 543.40 293.60)">normalized acceleration [0,1]</text>
<text x="419.5" y="417.2" font-family="'Liberation Serif','DejaVu Serif',serif" font-size="12.5" text-anchor="middle" fill="#111">(<tspan font-weight="bold">d</tspan>)</text>
<rect x="84.60" y="208.60" width="0.80" height="0.80" fill="#888"/>
<rect x="105.40" y="208.40" width="0.80" height="0.90" fill="#888"/>
</svg>
</body></html>
